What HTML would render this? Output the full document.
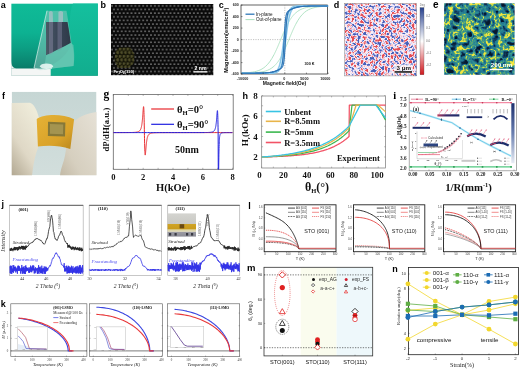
<!DOCTYPE html>
<html><head><meta charset="utf-8"><title>Figure</title>
<style>html,body{margin:0;padding:0;background:#fff;width:520px;height:369px;overflow:hidden}svg{display:block}</style>
</head><body>
<svg width="520" height="369" viewBox="0 0 520 369"><defs><linearGradient id="ga1" x1="0" y1="0" x2="0" y2="1"><stop offset="0" stop-color="#0fbb97"/><stop offset="0.4" stop-color="#0db292"/><stop offset="0.62" stop-color="#0c9e83"/><stop offset="0.85" stop-color="#0a826e"/><stop offset="1" stop-color="#086a5a"/></linearGradient><linearGradient id="ga2" x1="0" y1="0" x2="0" y2="1"><stop offset="0" stop-color="#14c09e"/><stop offset="1" stop-color="#12ad8e"/></linearGradient><linearGradient id="gastrip" x1="0" y1="0" x2="1" y2="0"><stop offset="0" stop-color="#4a5a66"/><stop offset="0.5" stop-color="#394456"/><stop offset="1" stop-color="#2e3a48"/></linearGradient><linearGradient id="gatop" x1="0" y1="0" x2="0" y2="1"><stop offset="0" stop-color="#9ccfc4"/><stop offset="1" stop-color="#7a9aa0"/></linearGradient><clipPath id="clipa"><rect x="11.2" y="3.4" width="86.7" height="72.4"/></clipPath></defs>
<g clip-path="url(#clipa)">
<rect x="11.2" y="3.4" width="86.7" height="72.4" fill="url(#ga1)" stroke="none" stroke-width="1"/>
<path d="M 73 3 C 69 14, 69 28, 71 40 C 72 50, 62 60, 50 66 L 50 76 L 98 76 L 98 3 Z" fill="url(#ga2)" stroke="none" stroke-width="1"/>
<path d="M 11 68.5 L 50.7 68.5 L 50.7 76 L 11 76 Z" fill="#f4f6f5" stroke="none" stroke-width="1"/>
<path d="M 11 60 C 11 66, 13 68.5, 18 68.5 L 11 68.5 Z" fill="#f4f6f5" stroke="none" stroke-width="1"/>
<path d="M 47 10.7 L 66.5 10.7 C 68.5 22, 70 32, 71.5 42 C 74 50, 74.5 58, 73.5 66 L 52 68.5 L 40 69.8 L 34 68 C 38 50, 43 28, 47 10.7 Z" fill="#8fc9c0" stroke="none" stroke-width="1" opacity="0.5"/>
<path d="M 49 12 Q 50.8 10 52.7 12 L 53 22 L 49 22 Z" fill="#a6c0c6" stroke="none" stroke-width="1" opacity="0.8"/>
<path d="M 58.4 12 Q 60.7 10 63 12 L 63 22 L 58.4 22 Z" fill="#a6c0c6" stroke="none" stroke-width="1" opacity="0.8"/>
<path d="M 46 22 L 67.5 22 C 69 30, 70 37, 70.7 42.9 C 63 47, 54 51.5, 46.1 55.2 Z" fill="url(#gastrip)" stroke="none" stroke-width="1"/>
<path d="M 49 22 L 53 22 L 53 53.3 L 49 54.9 Z" fill="#7a7c94" stroke="none" stroke-width="1" opacity="0.6"/>
<path d="M 57.5 22 L 62 22 L 62 49.2 L 57.5 51.3 Z" fill="#72748e" stroke="none" stroke-width="1" opacity="0.6"/>
<path d="M 46.1 55.2 C 54 51.5, 63 47, 70.7 42.9 L 73.5 45 C 74.5 55, 74.5 60, 73.5 66 L 52 68.5 L 44 69.5 Z" fill="#6ccab5" stroke="none" stroke-width="1" opacity="0.6"/>
<ellipse cx="46.5" cy="66.3" rx="6.5" ry="2.8" fill="#f2faf8" stroke="none" stroke-width="1" opacity="0.85"/>
<path d="M 47 10.7 C 43 28, 38 50, 34 68 L 40 69.8 L 52 68.5" fill="none" stroke="#d8eee9" stroke-width="0.8" opacity="0.9"/>
</g>
<defs><pattern id="pb" x="111" y="4.8" width="3.9" height="7.3" patternUnits="userSpaceOnUse"><rect width="3.9" height="7.3" fill="#0b0b0b"/><circle cx="1" cy="1" r="0.8" fill="#999"/><circle cx="2.95" cy="4.65" r="0.8" fill="#999"/></pattern><pattern id="pby" x="111" y="4" width="3.9" height="7.3" patternUnits="userSpaceOnUse"><rect width="3.9" height="7.3" fill="#141408"/><circle cx="1" cy="1" r="1.25" fill="none" stroke="#9a9440" stroke-width="0.45"/><circle cx="2.95" cy="4.65" r="1.25" fill="none" stroke="#9a9440" stroke-width="0.45"/><circle cx="1" cy="1" r="0.5" fill="#8c8c6c"/><circle cx="2.95" cy="4.65" r="0.5" fill="#8c8c6c"/></pattern></defs>
<rect x="111" y="4" width="102.3" height="71.2" fill="url(#pb)" stroke="none" stroke-width="1"/>
<polygon points="119,47.5 130,47 134.5,54 134,63 129,68 118,68 114.5,61 115,52" fill="url(#pby)" stroke="none" stroke-width="1"/>
<text x="113.5" y="73.3" font-family="'Liberation Sans', Arial, sans-serif" font-size="4.2" font-weight="bold" font-style="normal" fill="#ffffff" text-anchor="start">Fe<tspan font-size="2.6" dy="0.8">3</tspan><tspan dy="-0.8">O</tspan><tspan font-size="2.6" dy="0.8">4</tspan><tspan dy="-0.8">(110)</tspan></text>
<text x="200.5" y="69.6" font-family="'Liberation Sans', Arial, sans-serif" font-size="5.2" font-weight="bold" font-style="normal" fill="#ffffff" text-anchor="middle">2 nm</text>
<rect x="193.5" y="71.2" width="14" height="1.3" fill="#ffffff" stroke="none" stroke-width="1"/>
<rect x="241" y="5" width="86.5" height="69" fill="#ffffff" stroke="#222" stroke-width="0.7"/>
<line x1="241" y1="39.6" x2="327.5" y2="39.6" stroke="#9a9a9a" stroke-width="0.6" stroke-dasharray="1.2,1.2"/>
<line x1="284.8" y1="5" x2="284.8" y2="74" stroke="#9a9a9a" stroke-width="0.6" stroke-dasharray="1.2,1.2"/>
<polyline points="241.5,73.17 243.67,73.14 245.83,73.1 248,73.05 250.16,72.99 252.33,72.9 254.49,72.77 256.66,72.6 258.82,72.37 260.99,72.06 263.15,71.64 265.31,71.08 267.48,70.32 269.65,69.31 271.81,67.98 273.98,66.26 274.19,66.06 274.41,65.86 274.62,65.65 274.84,65.44 275.06,65.22 275.27,64.99 275.49,64.77 275.71,64.53 275.92,64.29 276.14,64.05 276.36,63.8 276.57,63.54 276.79,63.28 277.01,63.01 277.22,62.74 277.44,62.46 277.66,62.17 277.87,61.88 278.09,61.58 278.31,61.28 278.52,60.96 278.74,60.65 278.95,60.33 279.17,60 279.39,59.66 279.6,59.32 279.82,58.97 280.04,58.62 280.25,58.26 280.47,57.89 280.69,57.51 280.9,57.14 281.12,56.75 281.34,56.36 281.55,55.96 281.77,55.55 281.99,55.14 282.2,54.73 282.42,54.31 282.63,53.88 282.85,53.44 283.07,53 283.28,52.56 283.5,52.11 283.72,51.65 283.93,51.19 284.15,50.73 284.37,50.26 284.58,49.78 284.8,49.3 285.02,48.82 285.23,48.33 285.45,47.84 285.67,47.34 285.88,46.84 286.1,46.34 286.32,45.83 286.53,45.33 286.75,44.81 286.97,44.3 287.18,43.78 287.4,43.26 287.61,42.74 287.83,42.22 288.05,41.7 288.26,41.18 288.48,40.65 288.7,40.13 288.91,39.6 289.13,39.07 289.35,38.55 289.56,38.02 289.78,37.5 290,36.98 290.21,36.46 290.43,35.94 290.65,35.42 290.86,34.9 291.08,34.39 291.3,33.87 291.51,33.37 291.73,32.86 291.94,32.36 292.16,31.86 292.38,31.36 292.59,30.87 292.81,30.38 293.03,29.9 293.24,29.42 293.46,28.94 293.68,28.47 293.89,28.01 294.11,27.55 294.33,27.09 294.54,26.64 294.76,26.2 294.98,25.76 295.19,25.32 295.41,24.89 295.62,24.47 297.79,20.58 299.95,17.32 302.12,14.67 304.29,12.56 306.45,10.92 308.62,9.66 310.78,8.71 312.94,8 315.11,7.46 317.27,7.07 319.44,6.77 321.61,6.56 323.77,6.4 325.94,6.28 328.1,6.2" fill="none" stroke="#9edcb6" stroke-width="0.8" stroke-linejoin="round"/>
<polyline points="241.5,73 243.67,72.92 245.83,72.8 248,72.64 250.16,72.43 252.33,72.13 254.49,71.74 256.66,71.2 258.82,70.49 260.99,69.54 263.15,68.28 265.31,66.64 267.48,64.53 269.65,61.88 271.81,58.62 273.98,54.73 274.19,54.31 274.41,53.88 274.62,53.44 274.84,53 275.06,52.56 275.27,52.11 275.49,51.65 275.71,51.19 275.92,50.73 276.14,50.26 276.36,49.78 276.57,49.3 276.79,48.82 277.01,48.33 277.22,47.84 277.44,47.34 277.66,46.84 277.87,46.34 278.09,45.83 278.31,45.33 278.52,44.81 278.74,44.3 278.95,43.78 279.17,43.26 279.39,42.74 279.6,42.22 279.82,41.7 280.04,41.18 280.25,40.65 280.47,40.13 280.69,39.6 280.9,39.07 281.12,38.55 281.34,38.02 281.55,37.5 281.77,36.98 281.99,36.46 282.2,35.94 282.42,35.42 282.63,34.9 282.85,34.39 283.07,33.87 283.28,33.37 283.5,32.86 283.72,32.36 283.93,31.86 284.15,31.36 284.37,30.87 284.58,30.38 284.8,29.9 285.02,29.42 285.23,28.94 285.45,28.47 285.67,28.01 285.88,27.55 286.1,27.09 286.32,26.64 286.53,26.2 286.75,25.76 286.97,25.32 287.18,24.89 287.4,24.47 287.61,24.06 287.83,23.65 288.05,23.24 288.26,22.84 288.48,22.45 288.7,22.06 288.91,21.69 289.13,21.31 289.35,20.94 289.56,20.58 289.78,20.23 290,19.88 290.21,19.54 290.43,19.2 290.65,18.87 290.86,18.55 291.08,18.24 291.3,17.92 291.51,17.62 291.73,17.32 291.94,17.03 292.16,16.74 292.38,16.46 292.59,16.19 292.81,15.92 293.03,15.66 293.24,15.4 293.46,15.15 293.68,14.91 293.89,14.67 294.11,14.43 294.33,14.21 294.54,13.98 294.76,13.76 294.98,13.55 295.19,13.34 295.41,13.14 295.62,12.94 297.79,11.22 299.95,9.89 302.12,8.88 304.29,8.12 306.45,7.56 308.62,7.14 310.78,6.83 312.94,6.6 315.11,6.43 317.27,6.3 319.44,6.21 321.61,6.15 323.77,6.1 325.94,6.06 328.1,6.03" fill="none" stroke="#9edcb6" stroke-width="0.8" stroke-linejoin="round"/>
<polyline points="241.5,73.24 243.67,73.24 245.83,73.24 248,73.24 250.16,73.24 252.33,73.24 254.49,73.24 256.66,73.24 258.82,73.24 260.99,73.24 263.15,73.24 265.31,73.23 267.48,73.22 269.65,73.2 271.81,73.13 273.98,72.95 274.19,72.92 274.41,72.88 274.62,72.85 274.84,72.8 275.06,72.76 275.27,72.71 275.49,72.65 275.71,72.59 275.92,72.53 276.14,72.45 276.36,72.37 276.57,72.28 276.79,72.18 277.01,72.07 277.22,71.95 277.44,71.82 277.66,71.68 277.87,71.52 278.09,71.34 278.31,71.15 278.52,70.94 278.74,70.7 278.95,70.45 279.17,70.17 279.39,69.86 279.6,69.52 279.82,69.16 280.04,68.76 280.25,68.32 280.47,67.84 280.69,67.33 280.9,66.76 281.12,66.16 281.34,65.5 281.55,64.78 281.77,64.02 281.99,63.19 282.2,62.31 282.42,61.36 282.63,60.35 282.85,59.28 283.07,58.14 283.28,56.94 283.5,55.67 283.72,54.34 283.93,52.95 284.15,51.51 284.37,50.01 284.58,48.47 284.8,46.88 285.02,45.26 285.23,43.62 285.45,41.95 285.67,40.27 285.88,38.59 286.1,36.91 286.32,35.25 286.53,33.61 286.75,32 286.97,30.42 287.18,28.89 287.4,27.4 287.61,25.97 287.83,24.59 288.05,23.27 288.26,22.02 288.48,20.83 288.7,19.7 288.91,18.64 289.13,17.64 289.35,16.71 289.56,15.84 289.78,15.02 290,14.27 290.21,13.57 290.43,12.92 290.65,12.32 290.86,11.77 291.08,11.26 291.3,10.79 291.51,10.36 291.73,9.97 291.94,9.61 292.16,9.28 292.38,8.98 292.59,8.7 292.81,8.45 293.03,8.22 293.24,8.01 293.46,7.82 293.68,7.65 293.89,7.49 294.11,7.35 294.33,7.22 294.54,7.1 294.76,7 294.98,6.9 295.19,6.81 295.41,6.73 295.62,6.66 297.79,6.22 299.95,6.06 302.12,6 304.29,5.98 306.45,5.97 308.62,5.96 310.78,5.96 312.94,5.96 315.11,5.96 317.27,5.96 319.44,5.96 321.61,5.96 323.77,5.96 325.94,5.96 328.1,5.96" fill="none" stroke="#86c6ea" stroke-width="1.5" stroke-linejoin="round"/>
<polyline points="241.5,73.24 243.67,73.24 245.83,73.24 248,73.24 250.16,73.24 252.33,73.24 254.49,73.24 256.66,73.24 258.82,73.24 260.99,73.24 263.15,73.23 265.31,73.22 267.48,73.2 269.65,73.14 271.81,72.98 273.98,72.54 274.19,72.47 274.41,72.39 274.62,72.3 274.84,72.2 275.06,72.1 275.27,71.98 275.49,71.85 275.71,71.71 275.92,71.55 276.14,71.38 276.36,71.19 276.57,70.98 276.79,70.75 277.01,70.5 277.22,70.22 277.44,69.92 277.66,69.59 277.87,69.23 278.09,68.84 278.31,68.41 278.52,67.94 278.74,67.43 278.95,66.88 279.17,66.28 279.39,65.63 279.6,64.93 279.82,64.18 280.04,63.36 280.25,62.49 280.47,61.56 280.69,60.56 280.9,59.5 281.12,58.37 281.34,57.18 281.55,55.93 281.77,54.61 281.99,53.23 282.2,51.8 282.42,50.31 282.63,48.78 282.85,47.2 283.07,45.59 283.28,43.95 283.5,42.29 283.72,40.61 283.93,38.93 284.15,37.25 284.37,35.58 284.58,33.94 284.8,32.32 285.02,30.73 285.23,29.19 285.45,27.69 285.67,26.25 285.88,24.86 286.1,23.53 286.32,22.26 286.53,21.06 286.75,19.92 286.97,18.85 287.18,17.84 287.4,16.89 287.61,16.01 287.83,15.18 288.05,14.42 288.26,13.7 288.48,13.04 288.7,12.44 288.91,11.87 289.13,11.36 289.35,10.88 289.56,10.44 289.78,10.04 290,9.68 290.21,9.34 290.43,9.03 290.65,8.75 290.86,8.5 291.08,8.26 291.3,8.05 291.51,7.86 291.73,7.68 291.94,7.52 292.16,7.38 292.38,7.25 292.59,7.13 292.81,7.02 293.03,6.92 293.24,6.83 293.46,6.75 293.68,6.67 293.89,6.61 294.11,6.55 294.33,6.49 294.54,6.44 294.76,6.4 294.98,6.35 295.19,6.32 295.41,6.28 295.62,6.25 297.79,6.07 299.95,6 302.12,5.98 304.29,5.97 306.45,5.96 308.62,5.96 310.78,5.96 312.94,5.96 315.11,5.96 317.27,5.96 319.44,5.96 321.61,5.96 323.77,5.96 325.94,5.96 328.1,5.96" fill="none" stroke="#86c6ea" stroke-width="1.5" stroke-linejoin="round"/>
<polyline points="241.5,73.23 243.67,73.23 245.83,73.23 248,73.23 250.16,73.22 252.33,73.21 254.49,73.19 256.66,73.17 258.82,73.14 260.99,73.09 263.15,73.01 265.31,72.9 267.48,72.73 269.65,72.48 271.81,72.11 273.98,71.6 274.19,71.54 274.41,71.47 274.62,71.41 274.84,71.34 275.06,71.27 275.27,71.2 275.49,71.12 275.71,71.05 275.92,70.97 276.14,70.89 276.36,70.8 276.57,70.72 276.79,70.63 277.01,70.54 277.22,70.44 277.44,70.35 277.66,70.25 277.87,70.15 278.09,70.05 278.31,69.94 278.52,69.83 278.74,69.72 278.95,69.6 279.17,69.49 279.39,69.37 279.6,69.24 279.82,69.12 280.04,68.98 280.25,68.85 280.47,68.71 280.69,68.56 280.9,68.4 281.12,68.24 281.34,68.06 281.55,67.87 281.77,67.65 281.99,67.41 282.2,67.13 282.42,66.8 282.63,66.41 282.85,65.94 283.07,65.35 283.28,64.63 283.5,63.71 283.72,62.57 283.93,61.13 284.15,59.34 284.37,57.15 284.58,54.51 284.8,51.41 285.02,47.88 285.23,44.01 285.45,39.93 285.67,35.82 285.88,31.85 286.1,28.17 286.32,24.9 286.53,22.07 286.75,19.71 286.97,17.77 287.18,16.21 287.4,14.96 287.61,13.97 287.83,13.18 288.05,12.55 288.26,12.05 288.48,11.64 288.7,11.3 288.91,11.01 289.13,10.77 289.35,10.55 289.56,10.37 289.78,10.2 290,10.04 290.21,9.89 290.43,9.76 290.65,9.63 290.86,9.51 291.08,9.39 291.3,9.27 291.51,9.16 291.73,9.06 291.94,8.96 292.16,8.86 292.38,8.76 292.59,8.67 292.81,8.57 293.03,8.48 293.24,8.4 293.46,8.31 293.68,8.23 293.89,8.15 294.11,8.08 294.33,8 294.54,7.93 294.76,7.86 294.98,7.79 295.19,7.73 295.41,7.66 295.62,7.6 297.79,7.09 299.95,6.72 302.12,6.47 304.29,6.3 306.45,6.19 308.62,6.11 310.78,6.06 312.94,6.03 315.11,6.01 317.27,5.99 319.44,5.98 321.61,5.97 323.77,5.97 325.94,5.97 328.1,5.97" fill="none" stroke="#2e74b5" stroke-width="1.1" stroke-linejoin="round"/>
<polyline points="241.5,73.23 243.67,73.23 245.83,73.23 248,73.23 250.16,73.22 252.33,73.21 254.49,73.19 256.66,73.17 258.82,73.14 260.99,73.09 263.15,73.01 265.31,72.9 267.48,72.73 269.65,72.48 271.81,72.11 273.98,71.6 274.19,71.54 274.41,71.47 274.62,71.41 274.84,71.34 275.06,71.27 275.27,71.2 275.49,71.12 275.71,71.05 275.92,70.97 276.14,70.89 276.36,70.8 276.57,70.72 276.79,70.63 277.01,70.53 277.22,70.44 277.44,70.34 277.66,70.24 277.87,70.14 278.09,70.04 278.31,69.93 278.52,69.81 278.74,69.69 278.95,69.57 279.17,69.44 279.39,69.31 279.6,69.16 279.82,69 280.04,68.83 280.25,68.65 280.47,68.43 280.69,68.19 280.9,67.9 281.12,67.56 281.34,67.15 281.55,66.65 281.77,66.02 281.99,65.23 282.2,64.24 282.42,62.99 282.63,61.43 282.85,59.49 283.07,57.13 283.28,54.3 283.5,51.03 283.72,47.35 283.93,43.38 284.15,39.27 284.37,35.19 284.58,31.32 284.8,27.79 285.02,24.69 285.23,22.05 285.45,19.86 285.67,18.07 285.88,16.63 286.1,15.49 286.32,14.57 286.53,13.85 286.75,13.26 286.97,12.79 287.18,12.4 287.4,12.07 287.61,11.79 287.83,11.55 288.05,11.33 288.26,11.14 288.48,10.96 288.7,10.8 288.91,10.64 289.13,10.49 289.35,10.35 289.56,10.22 289.78,10.08 290,9.96 290.21,9.83 290.43,9.71 290.65,9.6 290.86,9.48 291.08,9.37 291.3,9.26 291.51,9.15 291.73,9.05 291.94,8.95 292.16,8.85 292.38,8.76 292.59,8.66 292.81,8.57 293.03,8.48 293.24,8.4 293.46,8.31 293.68,8.23 293.89,8.15 294.11,8.08 294.33,8 294.54,7.93 294.76,7.86 294.98,7.79 295.19,7.73 295.41,7.66 295.62,7.6 297.79,7.09 299.95,6.72 302.12,6.47 304.29,6.3 306.45,6.19 308.62,6.11 310.78,6.06 312.94,6.03 315.11,6.01 317.27,5.99 319.44,5.98 321.61,5.97 323.77,5.97 325.94,5.97 328.1,5.97" fill="none" stroke="#2e74b5" stroke-width="1.1" stroke-linejoin="round"/>
<line x1="241" y1="74.1" x2="242.5" y2="74.1" stroke="#222" stroke-width="0.5"/>
<text x="238.8" y="75.4" font-family="'Liberation Sans', Arial, sans-serif" font-size="3.6" font-weight="bold" font-style="normal" fill="#222" text-anchor="end">-600</text>
<line x1="241" y1="62.6" x2="242.5" y2="62.6" stroke="#222" stroke-width="0.5"/>
<text x="238.8" y="63.9" font-family="'Liberation Sans', Arial, sans-serif" font-size="3.6" font-weight="bold" font-style="normal" fill="#222" text-anchor="end">-400</text>
<line x1="241" y1="51.1" x2="242.5" y2="51.1" stroke="#222" stroke-width="0.5"/>
<text x="238.8" y="52.4" font-family="'Liberation Sans', Arial, sans-serif" font-size="3.6" font-weight="bold" font-style="normal" fill="#222" text-anchor="end">-200</text>
<line x1="241" y1="39.6" x2="242.5" y2="39.6" stroke="#222" stroke-width="0.5"/>
<text x="238.8" y="40.9" font-family="'Liberation Sans', Arial, sans-serif" font-size="3.6" font-weight="bold" font-style="normal" fill="#222" text-anchor="end">0</text>
<line x1="241" y1="28.1" x2="242.5" y2="28.1" stroke="#222" stroke-width="0.5"/>
<text x="238.8" y="29.4" font-family="'Liberation Sans', Arial, sans-serif" font-size="3.6" font-weight="bold" font-style="normal" fill="#222" text-anchor="end">200</text>
<line x1="241" y1="16.6" x2="242.5" y2="16.6" stroke="#222" stroke-width="0.5"/>
<text x="238.8" y="17.9" font-family="'Liberation Sans', Arial, sans-serif" font-size="3.6" font-weight="bold" font-style="normal" fill="#222" text-anchor="end">400</text>
<line x1="241" y1="5.1" x2="242.5" y2="5.1" stroke="#222" stroke-width="0.5"/>
<text x="238.8" y="6.4" font-family="'Liberation Sans', Arial, sans-serif" font-size="3.6" font-weight="bold" font-style="normal" fill="#222" text-anchor="end">600</text>
<line x1="241.5" y1="74" x2="241.5" y2="72.6" stroke="#222" stroke-width="0.5"/>
<line x1="263.15" y1="74" x2="263.15" y2="72.6" stroke="#222" stroke-width="0.5"/>
<line x1="284.8" y1="74" x2="284.8" y2="72.6" stroke="#222" stroke-width="0.5"/>
<line x1="306.45" y1="74" x2="306.45" y2="72.6" stroke="#222" stroke-width="0.5"/>
<line x1="328.1" y1="74" x2="328.1" y2="72.6" stroke="#222" stroke-width="0.5"/>
<text x="242.6" y="80.2" font-family="'Liberation Sans', Arial, sans-serif" font-size="3.7" font-weight="bold" font-style="normal" fill="#222" text-anchor="middle">-10000</text>
<text x="263.3" y="80.2" font-family="'Liberation Sans', Arial, sans-serif" font-size="3.7" font-weight="bold" font-style="normal" fill="#222" text-anchor="middle">-5000</text>
<text x="284.2" y="80.2" font-family="'Liberation Sans', Arial, sans-serif" font-size="3.7" font-weight="bold" font-style="normal" fill="#222" text-anchor="middle">0</text>
<text x="304.4" y="80.2" font-family="'Liberation Sans', Arial, sans-serif" font-size="3.7" font-weight="bold" font-style="normal" fill="#222" text-anchor="middle">5000</text>
<text x="325.3" y="80.2" font-family="'Liberation Sans', Arial, sans-serif" font-size="3.7" font-weight="bold" font-style="normal" fill="#222" text-anchor="middle">10000</text>
<text x="284.5" y="85.3" font-family="'Liberation Sans', Arial, sans-serif" font-size="5" font-weight="bold" font-style="normal" fill="#111" text-anchor="middle">Magnetic field(Oe)</text>
<text x="227.6" y="40.2" font-family="'Liberation Sans', Arial, sans-serif" font-size="5.7" font-weight="bold" font-style="normal" fill="#111" text-anchor="middle" transform="rotate(-90 227.6 40.2)">Magnetization(emu/cm<tspan font-size="3.6" dy="-1.5">3</tspan><tspan dy="1.5">)</tspan></text>
<line x1="245.5" y1="14.2" x2="254.5" y2="14.2" stroke="#2f78b8" stroke-width="1.3"/>
<text x="256" y="15.8" font-family="'Liberation Sans', Arial, sans-serif" font-size="4.6" font-weight="normal" font-style="normal" fill="#111" text-anchor="start">In-plane</text>
<line x1="245.5" y1="19.6" x2="254.5" y2="19.6" stroke="#9fdcb4" stroke-width="0.9"/>
<text x="256" y="21.2" font-family="'Liberation Sans', Arial, sans-serif" font-size="4.6" font-weight="normal" font-style="normal" fill="#111" text-anchor="start">Out-of-plane</text>
<text x="309.5" y="65.4" font-family="'Liberation Sans', Arial, sans-serif" font-size="3.8" font-weight="bold" font-style="normal" fill="#111" text-anchor="middle">300 K</text>
<defs><filter id="fd" x="-0.05" y="-0.05" width="1.1" height="1.1" filterUnits="objectBoundingBox" color-interpolation-filters="sRGB"><feTurbulence type="fractalNoise" baseFrequency="0.33" numOctaves="2" seed="7" result="n"/><feColorMatrix in="n" type="matrix" values="1 0 0 0 0  1 0 0 0 0  1 0 0 0 0  0 0 0 0 1" result="g"/><feComponentTransfer in="g"><feFuncR type="linear" slope="2.8" intercept="-0.9"/><feFuncG type="linear" slope="2.8" intercept="-0.9"/><feFuncB type="linear" slope="2.8" intercept="-0.9"/></feComponentTransfer><feComponentTransfer><feFuncR type="table" tableValues="0.28 0.5 0.84 0.98 0.99 0.96 0.89"/><feFuncG type="table" tableValues="0.38 0.55 0.84 0.95 0.87 0.62 0.3"/><feFuncB type="table" tableValues="0.72 0.84 0.96 0.98 0.9 0.64 0.33"/></feComponentTransfer><feGaussianBlur stdDeviation="0.45"/></filter><clipPath id="clipd"><rect x="344.7" y="3.3" width="72" height="72.6"/></clipPath><linearGradient id="gdbar" x1="0" y1="0" x2="0" y2="1"><stop offset="0" stop-color="#26408e"/><stop offset="0.5" stop-color="#ffffff"/><stop offset="1" stop-color="#d0181e"/></linearGradient></defs>
<g clip-path="url(#clipd)">
<rect x="344.7" y="3.3" width="72" height="72.6" fill="#fff" stroke="none" stroke-width="1" filter="url(#fd)"/>
</g>
<rect x="344.7" y="3.3" width="72" height="72.6" fill="none" stroke="#888" stroke-width="0.5"/>
<rect x="394" y="64.5" width="19" height="9" fill="#ffffff" stroke="none" stroke-width="1" opacity="0.75"/>
<text x="403.8" y="70.2" font-family="'Liberation Sans', Arial, sans-serif" font-size="6.2" font-weight="bold" font-style="normal" fill="#111" text-anchor="middle">3 μm</text>
<rect x="394.6" y="71.2" width="17.4" height="1.5" fill="#111" stroke="none" stroke-width="1"/>
<rect x="420" y="7.6" width="4" height="67.2" fill="url(#gdbar)" stroke="#555" stroke-width="0.3"/>
<text x="422.4" y="6.3" font-family="'Liberation Sans', Arial, sans-serif" font-size="2.8" font-weight="normal" font-style="normal" fill="#777" text-anchor="middle">Deg</text>
<text x="426" y="16.6" font-family="'Liberation Sans', Arial, sans-serif" font-size="3" font-weight="normal" font-style="normal" fill="#666" text-anchor="start">0.2</text>
<text x="426" y="29.2" font-family="'Liberation Sans', Arial, sans-serif" font-size="3" font-weight="normal" font-style="normal" fill="#666" text-anchor="start">0.1</text>
<text x="426" y="41.8" font-family="'Liberation Sans', Arial, sans-serif" font-size="3" font-weight="normal" font-style="normal" fill="#666" text-anchor="start">0.0</text>
<text x="426" y="54.1" font-family="'Liberation Sans', Arial, sans-serif" font-size="3" font-weight="normal" font-style="normal" fill="#666" text-anchor="start">-0.1</text>
<text x="426" y="66" font-family="'Liberation Sans', Arial, sans-serif" font-size="3" font-weight="normal" font-style="normal" fill="#666" text-anchor="start">-0.2</text>
<defs><filter id="fe" x="-0.05" y="-0.05" width="1.1" height="1.1" filterUnits="objectBoundingBox" color-interpolation-filters="sRGB"><feTurbulence type="fractalNoise" baseFrequency="0.15" numOctaves="2" seed="5" result="n1"/><feColorMatrix in="n1" type="matrix" values="1 0 0 0 0  1 0 0 0 0  1 0 0 0 0  0 0 0 0 1" result="g1"/><feTurbulence type="fractalNoise" baseFrequency="0.12" numOctaves="3" seed="3" result="n2"/><feColorMatrix in="n2" type="matrix" values="1 0 0 0 0  1 0 0 0 0  1 0 0 0 0  0 0 0 0 1" result="g2a"/><feComponentTransfer in="g2a" result="g2"><feFuncR type="table" tableValues="0 0 0 0.35 1 0.35 0 0 0"/><feFuncG type="table" tableValues="0 0 0 0.35 1 0.35 0 0 0"/><feFuncB type="table" tableValues="0 0 0 0.35 1 0.35 0 0 0"/></feComponentTransfer><feComposite in="g1" in2="g2" operator="arithmetic" k1="0" k2="0.6" k3="0.4" k4="0" result="w"/><feColorMatrix in="w" type="matrix" values="1 0 0 0 0  1 0 0 0 0  1 0 0 0 0  0 0 0 0 1" result="w2"/><feComponentTransfer in="w2"><feFuncR type="linear" slope="2.0" intercept="-0.52"/><feFuncG type="linear" slope="2.0" intercept="-0.52"/><feFuncB type="linear" slope="2.0" intercept="-0.52"/></feComponentTransfer><feComponentTransfer><feFuncR type="table" tableValues="0.03 0.05 0.09 0.13 0.16 0.2 0.36 0.8 0.96"/><feFuncG type="table" tableValues="0.1 0.2 0.34 0.46 0.52 0.57 0.66 0.85 0.9"/><feFuncB type="table" tableValues="0.18 0.32 0.48 0.57 0.58 0.56 0.45 0.28 0.25"/></feComponentTransfer><feGaussianBlur stdDeviation="0.5"/></filter><clipPath id="clipe"><rect x="444.1" y="3.3" width="70.5" height="71.5"/></clipPath></defs>
<g clip-path="url(#clipe)">
<rect x="444.1" y="3.3" width="70.5" height="71.5" fill="#fff" stroke="none" stroke-width="1" filter="url(#fe)"/>
</g>
<text x="501.5" y="66.6" font-family="'Liberation Sans', Arial, sans-serif" font-size="6.2" font-weight="bold" font-style="normal" fill="#ffffff" text-anchor="middle">200 nm</text>
<rect x="489.7" y="68.8" width="22.7" height="1.4" fill="#ffffff" stroke="none" stroke-width="1"/>
<text x="0.8" y="8.2" font-family="'Liberation Sans', Arial, sans-serif" font-size="9" font-weight="bold" font-style="normal" fill="#000" text-anchor="start">a</text>
<text x="100.6" y="8.2" font-family="'Liberation Sans', Arial, sans-serif" font-size="9" font-weight="bold" font-style="normal" fill="#000" text-anchor="start">b</text>
<text x="218.8" y="8.2" font-family="'Liberation Sans', Arial, sans-serif" font-size="9" font-weight="bold" font-style="normal" fill="#000" text-anchor="start">c</text>
<text x="333.8" y="7.6" font-family="'Liberation Sans', Arial, sans-serif" font-size="9" font-weight="bold" font-style="normal" fill="#000" text-anchor="start">d</text>
<text x="432.9" y="7.8" font-family="'Liberation Sans', Arial, sans-serif" font-size="10" font-weight="bold" font-style="normal" fill="#000" text-anchor="start">e</text>
<defs><linearGradient id="gfbg" x1="0" y1="0" x2="0" y2="1"><stop offset="0" stop-color="#c6d6d4"/><stop offset="1" stop-color="#d2dedc"/></linearGradient><linearGradient id="gfl" x1="0.6" y1="0" x2="0" y2="1"><stop offset="0" stop-color="#eeebd9"/><stop offset="0.55" stop-color="#dfd8c6"/><stop offset="1" stop-color="#b0a690"/></linearGradient><linearGradient id="gfr" x1="1" y1="0" x2="0" y2="1"><stop offset="0" stop-color="#e6e1d6"/><stop offset="0.7" stop-color="#d6cfbf"/><stop offset="1" stop-color="#c2b9a5"/></linearGradient><linearGradient id="gffilm" x1="0" y1="0" x2="1" y2="1"><stop offset="0" stop-color="#e6b236"/><stop offset="0.65" stop-color="#d9a229"/><stop offset="1" stop-color="#b8861c"/></linearGradient><clipPath id="clipf"><rect x="11.7" y="91.7" width="84.8" height="83.6"/></clipPath></defs>
<g clip-path="url(#clipf)">
<rect x="11.7" y="91.7" width="84.8" height="83.6" fill="url(#gfbg)" stroke="none" stroke-width="1"/>
<path d="M 11 103 L 30 102.7 C 34 104, 37 110, 39 118 C 41 128, 40 145, 36.5 152 C 34 160, 33 168, 32 176 L 11 176 Z" fill="url(#gfl)" stroke="none" stroke-width="1"/>
<path d="M 97 112 C 88 113, 78 116, 72 124 C 66 135, 67 150, 64 160 C 62 166, 60 172, 60 176 L 97 176 Z" fill="url(#gfr)" stroke="none" stroke-width="1"/>
<path d="M 36.7 119 C 44 114, 62 113.5, 74.1 119.2 L 70.3 149.1 C 60 145.5, 48 145, 37.9 146.6 Z" fill="url(#gffilm)" stroke="none" stroke-width="1"/>
<path d="M 48 121.7 L 65.4 122.5 L 65 136.6 L 47.9 136 Z" fill="#867838" stroke="none" stroke-width="1"/>
<path d="M 50 124 L 63.2 124.6 L 63 134.3 L 49.9 133.8 Z" fill="#a49450" stroke="none" stroke-width="1"/>
</g>
<rect x="113.3" y="94.4" width="119.9" height="74.9" fill="#fff" stroke="#666" stroke-width="0.8"/>
<line x1="113.4" y1="169.3" x2="113.4" y2="167.8" stroke="#666" stroke-width="0.5"/>
<line x1="113.4" y1="94.4" x2="113.4" y2="95.9" stroke="#666" stroke-width="0.5"/>
<line x1="128.3" y1="169.3" x2="128.3" y2="167.8" stroke="#666" stroke-width="0.5"/>
<line x1="128.3" y1="94.4" x2="128.3" y2="95.9" stroke="#666" stroke-width="0.5"/>
<line x1="143.2" y1="169.3" x2="143.2" y2="167.8" stroke="#666" stroke-width="0.5"/>
<line x1="143.2" y1="94.4" x2="143.2" y2="95.9" stroke="#666" stroke-width="0.5"/>
<line x1="158.1" y1="169.3" x2="158.1" y2="167.8" stroke="#666" stroke-width="0.5"/>
<line x1="158.1" y1="94.4" x2="158.1" y2="95.9" stroke="#666" stroke-width="0.5"/>
<line x1="173" y1="169.3" x2="173" y2="167.8" stroke="#666" stroke-width="0.5"/>
<line x1="173" y1="94.4" x2="173" y2="95.9" stroke="#666" stroke-width="0.5"/>
<line x1="187.9" y1="169.3" x2="187.9" y2="167.8" stroke="#666" stroke-width="0.5"/>
<line x1="187.9" y1="94.4" x2="187.9" y2="95.9" stroke="#666" stroke-width="0.5"/>
<line x1="202.8" y1="169.3" x2="202.8" y2="167.8" stroke="#666" stroke-width="0.5"/>
<line x1="202.8" y1="94.4" x2="202.8" y2="95.9" stroke="#666" stroke-width="0.5"/>
<line x1="217.7" y1="169.3" x2="217.7" y2="167.8" stroke="#666" stroke-width="0.5"/>
<line x1="217.7" y1="94.4" x2="217.7" y2="95.9" stroke="#666" stroke-width="0.5"/>
<line x1="232.6" y1="169.3" x2="232.6" y2="167.8" stroke="#666" stroke-width="0.5"/>
<line x1="232.6" y1="94.4" x2="232.6" y2="95.9" stroke="#666" stroke-width="0.5"/>
<polyline points="113.4,132.59 114.89,132.59 116.38,132.59 117.87,132.59 119.36,132.59 120.85,132.58 122.34,132.58 123.83,132.57 125.32,132.57 126.81,132.56 128.3,132.55 129.79,132.53 130.09,132.52 130.39,132.52 130.68,132.51 130.98,132.51 131.28,132.5 131.58,132.49 131.88,132.49 132.17,132.48 132.47,132.47 132.77,132.46 133.07,132.45 133.37,132.44 133.66,132.42 133.96,132.41 134.26,132.39 134.56,132.37 134.86,132.35 135.15,132.33 135.45,132.3 135.75,132.27 136.05,132.23 136.35,132.19 136.64,132.14 136.94,132.09 137.24,132.03 137.54,131.95 137.84,131.86 138.13,131.76 138.43,131.64 138.73,131.49 139.03,131.32 139.33,131.1 139.62,130.83 139.92,130.5 140.22,130.09 140.52,129.56 140.82,128.89 140.88,128.74 140.94,128.57 140.99,128.4 141.05,128.22 141.11,128.02 141.17,127.82 141.23,127.61 141.29,127.38 141.35,127.14 141.41,126.89 141.47,126.63 141.53,126.35 141.59,126.05 141.65,125.74 141.71,125.41 141.77,125.06 141.83,124.69 141.89,124.29 141.95,123.88 142.01,123.45 142.07,122.99 142.13,122.5 142.19,121.99 142.25,121.45 142.31,120.88 142.37,120.28 142.43,119.66 142.48,119 142.54,118.32 142.6,117.6 142.66,116.86 142.72,116.09 142.78,115.29 142.84,114.48 142.9,113.65 142.96,112.81 143.02,111.97 143.08,111.14 143.14,110.32 143.2,109.54 143.26,108.8 143.32,108.14 143.38,107.56 143.44,107.1 143.5,106.78 143.56,106.63 143.62,106.67 143.68,106.95 143.74,107.48 143.8,108.3 143.86,109.42 143.92,110.86 143.97,112.64 144.03,114.74 144.09,117.16 144.15,119.86 144.21,122.81 144.27,125.96 144.33,129.24 144.39,132.6 144.45,135.5 144.51,138.35 144.57,141.07 144.63,143.63 144.69,145.96 144.75,148.05 144.81,149.87 144.87,151.41 144.93,152.66 144.99,153.63 145.05,154.34 145.11,154.8 145.17,155.04 145.23,155.08 145.29,154.94 145.35,154.67 145.41,154.27 145.46,153.77 145.52,153.19 145.58,152.56 145.64,151.88 145.7,151.18 145.76,150.45 145.82,149.73 145.88,149 145.94,148.28 146,147.58 146.06,146.89 146.12,146.22 146.18,145.58 146.24,144.96 146.3,144.37 146.36,143.8 146.42,143.26 146.48,142.74 146.54,142.25 146.6,141.78 146.66,141.34 146.72,140.92 146.78,140.52 146.84,140.14 146.9,139.79 146.95,139.45 147.01,139.13 147.07,138.83 147.13,138.54 147.19,138.27 147.25,138.01 147.31,137.77 147.37,137.54 147.43,137.32 147.49,137.12 147.55,136.92 147.61,136.74 147.67,136.56 147.73,136.39 147.79,136.24 147.85,136.09 147.91,135.94 147.97,135.81 148.03,135.68 148.09,135.56 148.15,135.44 148.44,134.94 148.74,134.55 149.04,134.24 149.34,133.99 149.64,133.78 149.93,133.62 150.23,133.48 150.53,133.37 150.83,133.27 151.13,133.19 151.42,133.12 151.72,133.06 152.02,133.01 152.32,132.97 152.62,132.93 152.91,132.9 153.21,132.87 153.51,132.85 153.81,132.82 154.11,132.81 154.4,132.79 154.7,132.77 155,132.76 155.3,132.75 155.6,132.74 155.89,132.73 156.19,132.72 156.49,132.71 156.79,132.7 157.09,132.69 157.38,132.69 157.68,132.68 157.98,132.68 158.28,132.67 158.58,132.67 158.87,132.66 159.17,132.66 159.47,132.66 160.96,132.64 162.45,132.63 163.94,132.63 165.43,132.62 166.92,132.62 168.41,132.61 169.9,132.61 171.39,132.61 172.88,132.61 174.37,132.61 175.86,132.61 177.35,132.61 178.84,132.6 180.33,132.6 181.82,132.6 183.31,132.6 184.8,132.6 186.29,132.6 187.78,132.6 189.27,132.6 190.76,132.6 192.25,132.6 193.74,132.6 195.23,132.6 196.72,132.6 198.21,132.6 199.7,132.6 201.19,132.6 202.68,132.6 204.17,132.6 205.66,132.6 207.15,132.6 208.64,132.6 210.13,132.6 211.62,132.6 213.11,132.6 214.6,132.6 216.09,132.6 217.58,132.6 219.07,132.6 220.56,132.6 222.05,132.6 223.54,132.6 225.03,132.6 226.52,132.6 228.01,132.6 229.5,132.6 230.99,132.6 232.48,132.6" fill="none" stroke="#e8282c" stroke-width="1" stroke-linejoin="round"/>
<polyline points="113.4,132.6 114.89,132.6 116.38,132.6 117.87,132.6 119.36,132.6 120.85,132.6 122.34,132.6 123.83,132.6 125.32,132.6 126.81,132.6 128.3,132.6 129.79,132.6 131.28,132.6 132.77,132.6 134.26,132.6 135.75,132.6 137.24,132.6 138.73,132.6 140.22,132.6 141.71,132.6 143.2,132.6 144.69,132.6 146.18,132.6 147.67,132.6 149.16,132.6 150.65,132.6 152.14,132.6 153.63,132.6 155.12,132.6 156.61,132.6 158.1,132.6 159.59,132.6 161.08,132.6 162.57,132.6 164.06,132.6 165.55,132.6 167.04,132.6 168.53,132.6 170.02,132.6 171.51,132.6 173,132.6 174.49,132.6 175.98,132.6 177.47,132.6 178.96,132.6 180.45,132.6 181.94,132.6 183.43,132.6 184.92,132.6 186.41,132.6 187.9,132.6 189.39,132.59 190.88,132.59 192.37,132.59 193.86,132.59 195.35,132.59 196.84,132.59 198.33,132.58 199.82,132.58 201.31,132.57 202.8,132.56 204.29,132.55 204.59,132.55 204.89,132.54 205.18,132.54 205.48,132.53 205.78,132.53 206.08,132.52 206.38,132.52 206.67,132.51 206.97,132.5 207.27,132.5 207.57,132.49 207.87,132.48 208.16,132.47 208.46,132.45 208.76,132.44 209.06,132.42 209.36,132.41 209.65,132.39 209.95,132.36 210.25,132.33 210.55,132.3 210.85,132.27 211.14,132.22 211.44,132.17 211.74,132.12 212.04,132.05 212.34,131.96 212.63,131.86 212.93,131.74 213.23,131.58 213.53,131.39 213.83,131.15 214.12,130.85 214.42,130.46 214.72,129.96 214.78,129.84 214.84,129.71 214.9,129.58 214.96,129.44 215.02,129.29 215.08,129.13 215.14,128.96 215.2,128.78 215.26,128.59 215.32,128.39 215.38,128.18 215.44,127.95 215.49,127.71 215.55,127.46 215.61,127.18 215.67,126.9 215.73,126.59 215.79,126.26 215.85,125.91 215.91,125.54 215.97,125.15 216.03,124.73 216.09,124.29 216.15,123.81 216.21,123.31 216.27,122.78 216.33,122.22 216.39,121.63 216.45,121.01 216.51,120.36 216.57,119.67 216.63,118.96 216.69,118.22 216.75,117.45 216.81,116.67 216.87,115.88 216.93,115.08 216.98,114.29 217.04,113.53 217.1,112.81 217.16,112.14 217.22,111.56 217.28,111.1 217.34,110.77 217.4,110.62 217.46,110.68 217.52,110.99 217.58,111.58 217.64,112.48 217.7,113.71 217.76,115.29 217.82,117.21 217.88,119.47 217.94,122.03 218,124.85 218.06,127.87 218.12,131.01 218.18,144.8 218.24,166.74 218.3,169.3 218.36,169.3 218.42,169.3 218.47,169.3 218.53,169.3 218.59,169.3 218.65,169.3 218.71,167.07 218.77,162.1 218.83,157.81 218.89,154.16 218.95,151.08 219.01,148.5 219.07,146.33 219.13,144.51 219.19,142.97 219.25,141.67 219.31,140.57 219.37,139.63 219.43,138.83 219.49,138.14 219.55,137.54 219.61,137.03 219.67,136.58 219.73,136.19 219.79,135.84 219.85,135.54 219.91,135.28 219.96,135.04 220.02,134.83 220.08,134.65 220.14,134.48 220.2,134.33 220.26,134.2 220.32,134.07 220.38,133.97 220.44,133.87 220.5,133.78 220.56,133.7 220.62,133.62 220.68,133.55 220.74,133.49 220.8,133.44 220.86,133.38 220.92,133.34 220.98,133.29 221.04,133.25 221.1,133.21 221.16,133.18 221.22,133.15 221.28,133.12 221.34,133.09 221.4,133.06 221.45,133.04 221.51,133.02 221.57,133 221.63,132.98 221.69,132.96 221.75,132.94 221.81,132.93 221.87,132.91 221.93,132.9 222.23,132.84 222.53,132.79 222.83,132.76 223.12,132.73 223.42,132.71 223.72,132.69 224.02,132.68 224.32,132.67 224.61,132.66 224.91,132.65 225.21,132.65 225.51,132.64 225.81,132.64 226.1,132.63 226.4,132.63 226.7,132.63 227,132.62 227.3,132.62 227.59,132.62 227.89,132.62 228.19,132.62 228.49,132.61 228.79,132.61 229.08,132.61 229.38,132.61 229.68,132.61 229.98,132.61 230.28,132.61 230.57,132.61 230.87,132.61 231.17,132.61 231.47,132.61 231.77,132.61 232.06,132.61 232.36,132.61" fill="none" stroke="#2020e0" stroke-width="1" stroke-linejoin="round"/>
<line x1="151.2" y1="109" x2="174" y2="109" stroke="#e8282c" stroke-width="1.2"/>
<line x1="151.2" y1="124.3" x2="174" y2="124.3" stroke="#2020e0" stroke-width="1.2"/>
<text x="177" y="112.8" font-family="'Liberation Serif', 'Times New Roman', serif" font-size="10.6" font-weight="bold" font-style="normal" fill="#111" text-anchor="start">θ<tspan font-size="6.6" dy="2.2">H</tspan><tspan dy="-2.2">=0°</tspan></text>
<text x="177" y="128.1" font-family="'Liberation Serif', 'Times New Roman', serif" font-size="10.6" font-weight="bold" font-style="normal" fill="#111" text-anchor="start">θ<tspan font-size="6.6" dy="2.2">H</tspan><tspan dy="-2.2">=90°</tspan></text>
<text x="175" y="153.2" font-family="'Liberation Serif', 'Times New Roman', serif" font-size="10" font-weight="bold" font-style="normal" fill="#111" text-anchor="start">50nm</text>
<text x="113.4" y="180.3" font-family="'Liberation Serif', 'Times New Roman', serif" font-size="8.5" font-weight="bold" font-style="normal" fill="#111" text-anchor="middle">0</text>
<text x="143.2" y="180.3" font-family="'Liberation Serif', 'Times New Roman', serif" font-size="8.5" font-weight="bold" font-style="normal" fill="#111" text-anchor="middle">2</text>
<text x="173" y="180.3" font-family="'Liberation Serif', 'Times New Roman', serif" font-size="8.5" font-weight="bold" font-style="normal" fill="#111" text-anchor="middle">4</text>
<text x="202.8" y="180.3" font-family="'Liberation Serif', 'Times New Roman', serif" font-size="8.5" font-weight="bold" font-style="normal" fill="#111" text-anchor="middle">6</text>
<text x="232.6" y="180.3" font-family="'Liberation Serif', 'Times New Roman', serif" font-size="8.5" font-weight="bold" font-style="normal" fill="#111" text-anchor="middle">8</text>
<text x="173" y="190.5" font-family="'Liberation Serif', 'Times New Roman', serif" font-size="10.5" font-weight="bold" font-style="normal" fill="#111" text-anchor="middle">H(kOe)</text>
<text x="108.8" y="129.6" font-family="'Liberation Serif', 'Times New Roman', serif" font-size="8.8" font-weight="bold" font-style="normal" fill="#111" text-anchor="middle" transform="rotate(-90 108.8 129.6)">dP/dH(a.u.)</text>
<rect x="261.7" y="96" width="123.9" height="72" fill="#fff" stroke="#777" stroke-width="0.7"/>
<line x1="261.7" y1="168" x2="261.7" y2="166.6" stroke="#777" stroke-width="0.5"/>
<line x1="261.7" y1="96" x2="261.7" y2="97.4" stroke="#777" stroke-width="0.5"/>
<line x1="273.35" y1="168" x2="273.35" y2="166.6" stroke="#777" stroke-width="0.5"/>
<line x1="273.35" y1="96" x2="273.35" y2="97.4" stroke="#777" stroke-width="0.5"/>
<line x1="285" y1="168" x2="285" y2="166.6" stroke="#777" stroke-width="0.5"/>
<line x1="285" y1="96" x2="285" y2="97.4" stroke="#777" stroke-width="0.5"/>
<line x1="296.65" y1="168" x2="296.65" y2="166.6" stroke="#777" stroke-width="0.5"/>
<line x1="296.65" y1="96" x2="296.65" y2="97.4" stroke="#777" stroke-width="0.5"/>
<line x1="308.3" y1="168" x2="308.3" y2="166.6" stroke="#777" stroke-width="0.5"/>
<line x1="308.3" y1="96" x2="308.3" y2="97.4" stroke="#777" stroke-width="0.5"/>
<line x1="319.95" y1="168" x2="319.95" y2="166.6" stroke="#777" stroke-width="0.5"/>
<line x1="319.95" y1="96" x2="319.95" y2="97.4" stroke="#777" stroke-width="0.5"/>
<line x1="331.6" y1="168" x2="331.6" y2="166.6" stroke="#777" stroke-width="0.5"/>
<line x1="331.6" y1="96" x2="331.6" y2="97.4" stroke="#777" stroke-width="0.5"/>
<line x1="343.25" y1="168" x2="343.25" y2="166.6" stroke="#777" stroke-width="0.5"/>
<line x1="343.25" y1="96" x2="343.25" y2="97.4" stroke="#777" stroke-width="0.5"/>
<line x1="354.9" y1="168" x2="354.9" y2="166.6" stroke="#777" stroke-width="0.5"/>
<line x1="354.9" y1="96" x2="354.9" y2="97.4" stroke="#777" stroke-width="0.5"/>
<line x1="366.55" y1="168" x2="366.55" y2="166.6" stroke="#777" stroke-width="0.5"/>
<line x1="366.55" y1="96" x2="366.55" y2="97.4" stroke="#777" stroke-width="0.5"/>
<line x1="378.2" y1="168" x2="378.2" y2="166.6" stroke="#777" stroke-width="0.5"/>
<line x1="378.2" y1="96" x2="378.2" y2="97.4" stroke="#777" stroke-width="0.5"/>
<line x1="261.7" y1="157" x2="263.1" y2="157" stroke="#777" stroke-width="0.5"/>
<line x1="385.6" y1="157" x2="384.2" y2="157" stroke="#777" stroke-width="0.5"/>
<line x1="261.7" y1="146.75" x2="263.1" y2="146.75" stroke="#777" stroke-width="0.5"/>
<line x1="385.6" y1="146.75" x2="384.2" y2="146.75" stroke="#777" stroke-width="0.5"/>
<line x1="261.7" y1="136.5" x2="263.1" y2="136.5" stroke="#777" stroke-width="0.5"/>
<line x1="385.6" y1="136.5" x2="384.2" y2="136.5" stroke="#777" stroke-width="0.5"/>
<line x1="261.7" y1="126.25" x2="263.1" y2="126.25" stroke="#777" stroke-width="0.5"/>
<line x1="385.6" y1="126.25" x2="384.2" y2="126.25" stroke="#777" stroke-width="0.5"/>
<line x1="261.7" y1="116" x2="263.1" y2="116" stroke="#777" stroke-width="0.5"/>
<line x1="385.6" y1="116" x2="384.2" y2="116" stroke="#777" stroke-width="0.5"/>
<line x1="261.7" y1="105.75" x2="263.1" y2="105.75" stroke="#777" stroke-width="0.5"/>
<line x1="385.6" y1="105.75" x2="384.2" y2="105.75" stroke="#777" stroke-width="0.5"/>
<line x1="261.7" y1="95.5" x2="263.1" y2="95.5" stroke="#777" stroke-width="0.5"/>
<line x1="385.6" y1="95.5" x2="384.2" y2="95.5" stroke="#777" stroke-width="0.5"/>
<polyline points="261.7,157 262.87,156.97 264.03,156.95 265.19,156.92 266.36,156.89 267.52,156.86 268.69,156.83 269.86,156.79 271.02,156.76 272.19,156.72 273.35,156.68 274.51,156.64 275.68,156.6 276.84,156.55 278.01,156.5 279.18,156.45 280.34,156.4 281.5,156.34 282.67,156.28 283.83,156.22 285,156.15 286.16,156.09 287.33,156.01 288.5,155.94 289.66,155.86 290.82,155.77 291.99,155.69 293.15,155.59 294.32,155.5 295.49,155.39 296.65,155.29 297.81,155.17 298.98,155.06 300.14,154.93 301.31,154.8 302.47,154.66 303.64,154.52 304.81,154.36 305.97,154.2 307.13,154.03 308.3,153.86 309.46,153.67 310.63,153.47 311.79,153.27 312.96,153.05 314.12,152.82 315.29,152.58 316.45,152.33 317.62,152.07 318.78,151.79 319.95,151.5 321.12,151.19 322.28,150.87 323.44,150.53 324.61,150.17 325.77,149.8 326.94,149.4 328.11,148.99 329.27,148.55 330.44,148.09 331.6,147.61 332.76,147.1 333.93,146.57 335.09,146.01 336.26,145.42 337.43,144.8 338.59,144.15 339.75,143.47 340.92,142.75 342.08,141.99 343.25,141.2 344.41,140.36 345.58,139.49 346.75,138.56 347.91,137.59 349.07,136.57 349.31,105.24 385.6,105.24" fill="none" stroke="#f25366" stroke-width="1.25" stroke-linejoin="round"/>
<polyline points="261.7,157 262.87,156.96 264.03,156.91 265.19,156.86 266.36,156.81 267.52,156.76 268.69,156.7 269.86,156.64 271.02,156.58 272.19,156.52 273.35,156.46 274.51,156.39 275.68,156.31 276.84,156.24 278.01,156.16 279.18,156.08 280.34,155.99 281.5,155.9 282.67,155.81 283.83,155.71 285,155.61 286.16,155.5 287.33,155.38 288.5,155.27 289.66,155.14 290.82,155.02 291.99,154.88 293.15,154.74 294.32,154.59 295.49,154.44 296.65,154.28 297.81,154.11 298.98,153.94 300.14,153.75 301.31,153.56 302.47,153.36 303.64,153.15 304.81,152.93 305.97,152.7 307.13,152.46 308.3,152.21 309.46,151.95 310.63,151.68 311.79,151.39 312.96,151.09 314.12,150.78 315.29,150.45 316.45,150.11 317.62,149.75 318.78,149.38 319.95,148.99 321.12,148.58 322.28,148.15 323.44,147.71 324.61,147.24 325.77,146.75 326.94,146.24 328.11,145.71 329.27,145.15 330.44,144.57 331.6,143.96 332.76,143.32 333.93,142.66 335.09,141.96 336.26,141.23 337.43,140.47 338.59,139.68 339.75,138.85 340.92,137.98 342.08,137.07 343.25,136.12 344.41,135.12 345.58,134.09 346.75,133 347.91,131.86 349.07,130.68 351.99,105.24 377.03,105.24 385.6,120.1" fill="none" stroke="#3cb850" stroke-width="1.25" stroke-linejoin="round"/>
<polyline points="261.7,157 262.87,156.94 264.03,156.87 265.19,156.8 266.36,156.73 267.52,156.66 268.69,156.58 269.86,156.5 271.02,156.42 272.19,156.33 273.35,156.24 274.51,156.15 275.68,156.05 276.84,155.95 278.01,155.85 279.18,155.74 280.34,155.62 281.5,155.5 282.67,155.38 283.83,155.25 285,155.12 286.16,154.98 287.33,154.83 288.5,154.68 289.66,154.52 290.82,154.36 291.99,154.19 293.15,154.01 294.32,153.83 295.49,153.63 296.65,153.43 297.81,153.22 298.98,153.01 300.14,152.78 301.31,152.55 302.47,152.3 303.64,152.05 304.81,151.78 305.97,151.51 307.13,151.22 308.3,150.92 309.46,150.61 310.63,150.29 311.79,149.95 312.96,149.6 314.12,149.24 315.29,148.86 316.45,148.46 317.62,148.05 318.78,147.62 319.95,147.18 321.12,146.71 322.28,146.23 323.44,145.73 324.61,145.21 325.77,144.66 326.94,144.1 328.11,143.51 329.27,142.89 330.44,142.25 331.6,141.59 332.76,140.9 333.93,140.18 335.09,139.43 336.26,138.65 337.43,137.84 338.59,136.99 339.75,136.11 340.92,135.2 342.08,134.25 343.25,133.25 344.41,132.22 345.58,131.15 346.75,130.03 347.91,128.87 349.07,127.66 356.06,105.24 378.2,105.24 385.6,111.9" fill="none" stroke="#e9b54a" stroke-width="1.25" stroke-linejoin="round"/>
<polyline points="261.7,157 262.87,156.92 264.03,156.83 265.19,156.74 266.36,156.65 267.52,156.56 268.69,156.46 269.86,156.35 271.02,156.25 272.19,156.14 273.35,156.02 274.51,155.91 275.68,155.78 276.84,155.66 278.01,155.52 279.18,155.39 280.34,155.25 281.5,155.1 282.67,154.95 283.83,154.79 285,154.63 286.16,154.46 287.33,154.28 288.5,154.1 289.66,153.91 290.82,153.72 291.99,153.52 293.15,153.31 294.32,153.09 295.49,152.87 296.65,152.63 297.81,152.39 298.98,152.14 300.14,151.88 301.31,151.61 302.47,151.33 303.64,151.04 304.81,150.75 305.97,150.44 307.13,150.11 308.3,149.78 309.46,149.44 310.63,149.08 311.79,148.71 312.96,148.32 314.12,147.92 315.29,147.51 316.45,147.08 317.62,146.64 318.78,146.18 319.95,145.7 321.12,145.21 322.28,144.7 323.44,144.17 324.61,143.62 325.77,143.05 326.94,142.46 328.11,141.85 329.27,141.22 330.44,140.56 331.6,139.88 332.76,139.17 333.93,138.44 335.09,137.69 336.26,136.9 337.43,136.09 338.59,135.24 339.75,134.37 340.92,133.47 342.08,132.53 343.25,131.55 344.41,130.55 345.58,129.5 346.75,128.42 347.91,127.3 349.07,126.13 360.14,105.24 375.87,105.24 385.6,118.05" fill="none" stroke="#38c4e4" stroke-width="1.25" stroke-linejoin="round"/>
<line x1="265.8" y1="111.5" x2="281" y2="111.5" stroke="#38c4e4" stroke-width="1.6"/>
<text x="284.2" y="114.5" font-family="'Liberation Serif', 'Times New Roman', serif" font-size="8.5" font-weight="bold" font-style="normal" fill="#111" text-anchor="start">Unbent</text>
<line x1="265.8" y1="121.3" x2="281" y2="121.3" stroke="#e9b54a" stroke-width="1.6"/>
<text x="284.2" y="124.3" font-family="'Liberation Serif', 'Times New Roman', serif" font-size="8.5" font-weight="bold" font-style="normal" fill="#111" text-anchor="start">R=8.5mm</text>
<line x1="265.8" y1="132.1" x2="281" y2="132.1" stroke="#3cb850" stroke-width="1.6"/>
<text x="284.2" y="135.1" font-family="'Liberation Serif', 'Times New Roman', serif" font-size="8.5" font-weight="bold" font-style="normal" fill="#111" text-anchor="start">R=5mm</text>
<line x1="265.8" y1="142.5" x2="281" y2="142.5" stroke="#f25366" stroke-width="1.6"/>
<text x="284.2" y="145.5" font-family="'Liberation Serif', 'Times New Roman', serif" font-size="8.5" font-weight="bold" font-style="normal" fill="#111" text-anchor="start">R=3.5mm</text>
<text x="358.4" y="160.9" font-family="'Liberation Serif', 'Times New Roman', serif" font-size="8.5" font-weight="bold" font-style="normal" fill="#111" text-anchor="middle">Experiment</text>
<text x="255.6" y="160.2" font-family="'Liberation Serif', 'Times New Roman', serif" font-size="9" font-weight="bold" font-style="normal" fill="#111" text-anchor="middle">2</text>
<text x="255.6" y="139.7" font-family="'Liberation Serif', 'Times New Roman', serif" font-size="9" font-weight="bold" font-style="normal" fill="#111" text-anchor="middle">4</text>
<text x="255.6" y="119.2" font-family="'Liberation Serif', 'Times New Roman', serif" font-size="9" font-weight="bold" font-style="normal" fill="#111" text-anchor="middle">6</text>
<text x="255.6" y="98.7" font-family="'Liberation Serif', 'Times New Roman', serif" font-size="9" font-weight="bold" font-style="normal" fill="#111" text-anchor="middle">8</text>
<text x="259.5" y="178.4" font-family="'Liberation Serif', 'Times New Roman', serif" font-size="8.8" font-weight="bold" font-style="normal" fill="#111" text-anchor="middle">0</text>
<text x="283.5" y="178.4" font-family="'Liberation Serif', 'Times New Roman', serif" font-size="8.8" font-weight="bold" font-style="normal" fill="#111" text-anchor="middle">20</text>
<text x="307" y="178.4" font-family="'Liberation Serif', 'Times New Roman', serif" font-size="8.8" font-weight="bold" font-style="normal" fill="#111" text-anchor="middle">40</text>
<text x="330.3" y="178.4" font-family="'Liberation Serif', 'Times New Roman', serif" font-size="8.8" font-weight="bold" font-style="normal" fill="#111" text-anchor="middle">60</text>
<text x="353.8" y="178.4" font-family="'Liberation Serif', 'Times New Roman', serif" font-size="8.8" font-weight="bold" font-style="normal" fill="#111" text-anchor="middle">80</text>
<text x="377" y="178.4" font-family="'Liberation Serif', 'Times New Roman', serif" font-size="8.8" font-weight="bold" font-style="normal" fill="#111" text-anchor="middle">100</text>
<text x="248.4" y="130.4" font-family="'Liberation Serif', 'Times New Roman', serif" font-size="9.2" font-weight="bold" font-style="normal" fill="#111" text-anchor="middle" transform="rotate(-90 248.4 130.4)">H<tspan font-size="5" dy="2">r</tspan><tspan dy="-2">(kOe)</tspan></text>
<text x="317" y="191" font-family="'Liberation Serif', 'Times New Roman', serif" font-size="12" font-weight="bold" font-style="normal" fill="#111" text-anchor="middle">θ<tspan font-size="6.5" dy="2">H</tspan><tspan dy="-2">(°)</tspan></text>
<rect x="409.2" y="94.6" width="107.3" height="76.2" fill="#fff" stroke="#888" stroke-width="0.7"/>
<defs><linearGradient id="gibar" x1="0" y1="0" x2="0" y2="1"><stop offset="0" stop-color="#1c2f6e"/><stop offset="0.5" stop-color="#6a7fb0"/><stop offset="1" stop-color="#e8ecf4"/></linearGradient><linearGradient id="gislab" x1="0" y1="0" x2="1" y2="0"><stop offset="0" stop-color="#c04060"/><stop offset="0.4" stop-color="#3a2a6a"/><stop offset="1" stop-color="#1e2d6a"/></linearGradient></defs>
<rect x="511.3" y="103.2" width="3.2" height="60" fill="url(#gibar)" stroke="none" stroke-width="1"/>
<line x1="409.2" y1="102.7" x2="511.5" y2="102.7" stroke="#f07090" stroke-width="1"/>
<circle cx="411" cy="102.7" r="0.8" fill="#c03050" stroke="none" stroke-width="1"/>
<circle cx="425.3" cy="102.7" r="0.8" fill="#c03050" stroke="none" stroke-width="1"/>
<circle cx="439.6" cy="102.7" r="0.8" fill="#c03050" stroke="none" stroke-width="1"/>
<circle cx="453.9" cy="102.7" r="0.8" fill="#c03050" stroke="none" stroke-width="1"/>
<circle cx="468.2" cy="102.7" r="0.8" fill="#c03050" stroke="none" stroke-width="1"/>
<circle cx="482.5" cy="102.7" r="0.8" fill="#c03050" stroke="none" stroke-width="1"/>
<circle cx="496.8" cy="102.7" r="0.8" fill="#c03050" stroke="none" stroke-width="1"/>
<circle cx="511.1" cy="102.7" r="0.8" fill="#c03050" stroke="none" stroke-width="1"/>
<line x1="409.2" y1="166.9" x2="511.5" y2="166.9" stroke="#50c880" stroke-width="1.2"/>
<rect x="410.2" y="166.1" width="1.6" height="1.6" fill="#2a9a50" stroke="none" stroke-width="1"/>
<rect x="424.5" y="166.1" width="1.6" height="1.6" fill="#2a9a50" stroke="none" stroke-width="1"/>
<rect x="438.8" y="166.1" width="1.6" height="1.6" fill="#2a9a50" stroke="none" stroke-width="1"/>
<rect x="453.1" y="166.1" width="1.6" height="1.6" fill="#2a9a50" stroke="none" stroke-width="1"/>
<rect x="467.4" y="166.1" width="1.6" height="1.6" fill="#2a9a50" stroke="none" stroke-width="1"/>
<rect x="481.7" y="166.1" width="1.6" height="1.6" fill="#2a9a50" stroke="none" stroke-width="1"/>
<rect x="496" y="166.1" width="1.6" height="1.6" fill="#2a9a50" stroke="none" stroke-width="1"/>
<rect x="510.3" y="166.1" width="1.6" height="1.6" fill="#2a9a50" stroke="none" stroke-width="1"/>
<polyline points="410,110.6 420,113.2 432,116.8 441.4,119.8 451.8,122.6 460,128 468,133 478,139.2 490,145.5 500,150.5 511,156" fill="none" stroke="#cdeef8" stroke-width="2" stroke-linejoin="round"/>
<polyline points="410,110.6 420,113.2 432,116.8 441.4,119.8 451.8,122.6 460,128 468,133 478,139.2 490,145.5 500,150.5 511,156" fill="none" stroke="#4cbde3" stroke-width="0.7" stroke-linejoin="round"/>
<circle cx="420" cy="113.2" r="0.8" fill="#1f5f9a" stroke="none" stroke-width="1"/>
<circle cx="441.4" cy="119.8" r="0.8" fill="#1f5f9a" stroke="none" stroke-width="1"/>
<circle cx="460" cy="128" r="0.8" fill="#1f5f9a" stroke="none" stroke-width="1"/>
<circle cx="478" cy="139.2" r="0.8" fill="#1f5f9a" stroke="none" stroke-width="1"/>
<circle cx="500" cy="150.5" r="0.8" fill="#1f5f9a" stroke="none" stroke-width="1"/>
<line x1="411" y1="99.2" x2="423" y2="99.2" stroke="#e06080" stroke-width="0.7"/>
<circle cx="417" cy="99.2" r="0.8" fill="#c03050" stroke="none" stroke-width="1"/>
<text x="425.3" y="100.6" font-family="'Liberation Serif', 'Times New Roman', serif" font-size="4.3" font-weight="bold" font-style="normal" fill="#222" text-anchor="start">B<tspan font-size="2.6" dy="0.8">H</tspan><tspan dy="-0.8">=90°</tspan></text>
<line x1="451.8" y1="99.2" x2="461" y2="99.2" stroke="#30aad8" stroke-width="0.7"/>
<circle cx="456.4" cy="99.2" r="0.8" fill="#1f5f9a" stroke="none" stroke-width="1"/>
<text x="463" y="100.6" font-family="'Liberation Serif', 'Times New Roman', serif" font-size="4.3" font-weight="bold" font-style="normal" fill="#222" text-anchor="start">B<tspan font-size="2.6" dy="0.8">H</tspan><tspan dy="-0.8">=73°</tspan></text>
<line x1="489" y1="99.2" x2="498.4" y2="99.2" stroke="#50c880" stroke-width="0.7"/>
<rect x="493" y="98.4" width="1.6" height="1.6" fill="#2a9a50" stroke="none" stroke-width="1"/>
<text x="501.5" y="100.6" font-family="'Liberation Serif', 'Times New Roman', serif" font-size="4.3" font-weight="bold" font-style="normal" fill="#222" text-anchor="start">B<tspan font-size="2.6" dy="0.8">H</tspan><tspan dy="-0.8">=0°</tspan></text>
<text x="413" y="110.9" font-family="'Liberation Serif', 'Times New Roman', serif" font-size="5.2" font-weight="bold" font-style="normal" fill="#222" text-anchor="start">(a)</text>
<text x="412" y="117.8" font-family="'Liberation Serif', 'Times New Roman', serif" font-size="2.4" font-weight="normal" font-style="normal" fill="#777" text-anchor="start">0.92</text>
<rect x="412.6" y="126.8" width="17.4" height="2" fill="#1e2d6a" stroke="none" stroke-width="1"/>
<line x1="414.5" y1="126.5" x2="418.04" y2="122.29" stroke="#e06080" stroke-width="0.5"/>
<polygon points="418.04,122.29 416.73,122.8 417.76,123.66" fill="#e06080" stroke="none" stroke-width="1"/>
<line x1="420.5" y1="126.5" x2="424.04" y2="122.29" stroke="#e06080" stroke-width="0.5"/>
<polygon points="424.04,122.29 422.73,122.8 423.76,123.66" fill="#e06080" stroke="none" stroke-width="1"/>
<line x1="426.5" y1="126.5" x2="430.04" y2="122.29" stroke="#e06080" stroke-width="0.5"/>
<polygon points="430.04,122.29 428.73,122.8 429.76,123.66" fill="#e06080" stroke="none" stroke-width="1"/>
<rect x="437.4" y="114.3" width="22" height="2.2" fill="url(#gislab)" stroke="none" stroke-width="1"/>
<line x1="439" y1="114" x2="442.15" y2="109.49" stroke="#e06080" stroke-width="0.5"/>
<polygon points="442.15,109.49 440.9,110.12 442,110.89" fill="#e06080" stroke="none" stroke-width="1"/>
<line x1="444.6" y1="114" x2="447.75" y2="109.49" stroke="#e06080" stroke-width="0.5"/>
<polygon points="447.75,109.49 446.5,110.12 447.6,110.89" fill="#e06080" stroke="none" stroke-width="1"/>
<line x1="450.2" y1="114" x2="453.35" y2="109.49" stroke="#e06080" stroke-width="0.5"/>
<polygon points="453.35,109.49 452.1,110.12 453.2,110.89" fill="#e06080" stroke="none" stroke-width="1"/>
<line x1="455.8" y1="114" x2="458.95" y2="109.49" stroke="#e06080" stroke-width="0.5"/>
<polygon points="458.95,109.49 457.7,110.12 458.8,110.89" fill="#e06080" stroke="none" stroke-width="1"/>
<line x1="441.5" y1="118" x2="441.5" y2="121" stroke="#333" stroke-width="0.4"/>
<text x="462" y="107.2" font-family="'Liberation Sans', Arial, sans-serif" font-size="2.4" font-weight="normal" font-style="normal" fill="#444" text-anchor="start">1.33 Å</text>
<line x1="467.5" y1="109" x2="467.5" y2="113.4" stroke="#777" stroke-width="0.5"/>
<line x1="493" y1="109" x2="493" y2="113.4" stroke="#777" stroke-width="0.5"/>
<line x1="471.1" y1="109" x2="471.1" y2="113.4" stroke="#777" stroke-width="0.5"/>
<line x1="496.6" y1="109" x2="496.6" y2="113.4" stroke="#777" stroke-width="0.5"/>
<line x1="474.7" y1="109" x2="474.7" y2="113.4" stroke="#777" stroke-width="0.5"/>
<line x1="500.2" y1="109" x2="500.2" y2="113.4" stroke="#777" stroke-width="0.5"/>
<line x1="478.3" y1="109" x2="478.3" y2="113.4" stroke="#777" stroke-width="0.5"/>
<line x1="503.8" y1="109" x2="503.8" y2="113.4" stroke="#777" stroke-width="0.5"/>
<line x1="481.9" y1="109" x2="481.9" y2="113.4" stroke="#777" stroke-width="0.5"/>
<line x1="507.4" y1="109" x2="507.4" y2="113.4" stroke="#777" stroke-width="0.5"/>
<rect x="466.6" y="116.3" width="15.6" height="1.8" fill="#1e2d6a" stroke="none" stroke-width="1"/>
<text x="487.3" y="118.2" font-family="'Liberation Sans', Arial, sans-serif" font-size="3" font-weight="normal" font-style="normal" fill="#333" text-anchor="start">&gt;</text>
<path d="M 493.5 119.3 Q 500.5 112.5 507.5 119.3" fill="none" stroke="#1e2d6a" stroke-width="1.8"/>
<path d="M 467.2 136.2 Q 476 131 485.7 136.5" fill="none" stroke="#1e2d6a" stroke-width="2.2"/>
<path d="M 467.2 136.2 Q 470 134.5 473 134" fill="none" stroke="#c04060" stroke-width="1.2"/>
<line x1="469" y1="134" x2="472.15" y2="129.49" stroke="#e06080" stroke-width="0.5"/>
<polygon points="472.15,129.49 470.9,130.12 472,130.89" fill="#e06080" stroke="none" stroke-width="1"/>
<line x1="473.8" y1="134" x2="476.95" y2="129.49" stroke="#e06080" stroke-width="0.5"/>
<polygon points="476.95,129.49 475.7,130.12 476.8,130.89" fill="#e06080" stroke="none" stroke-width="1"/>
<line x1="478.6" y1="134" x2="481.75" y2="129.49" stroke="#e06080" stroke-width="0.5"/>
<polygon points="481.75,129.49 480.5,130.12 481.6,130.89" fill="#e06080" stroke="none" stroke-width="1"/>
<line x1="483.4" y1="134" x2="486.55" y2="129.49" stroke="#e06080" stroke-width="0.5"/>
<polygon points="486.55,129.49 485.3,130.12 486.4,130.89" fill="#e06080" stroke="none" stroke-width="1"/>
<text x="470" y="143" font-family="'Liberation Serif', 'Times New Roman', serif" font-size="2.6" font-weight="bold" font-style="normal" fill="#333" text-anchor="start">(c)</text>
<path d="M 490.3 145 Q 499.5 140 508.7 145.5" fill="none" stroke="#1e2d6a" stroke-width="2.2"/>
<path d="M 490.3 145 Q 493 143.5 496 143" fill="none" stroke="#c04060" stroke-width="1.2"/>
<line x1="492" y1="143" x2="495.15" y2="138.49" stroke="#e06080" stroke-width="0.5"/>
<polygon points="495.15,138.49 493.9,139.12 495,139.89" fill="#e06080" stroke="none" stroke-width="1"/>
<line x1="496.6" y1="143" x2="499.75" y2="138.49" stroke="#e06080" stroke-width="0.5"/>
<polygon points="499.75,138.49 498.5,139.12 499.6,139.89" fill="#e06080" stroke="none" stroke-width="1"/>
<line x1="501.2" y1="143" x2="504.35" y2="138.49" stroke="#e06080" stroke-width="0.5"/>
<polygon points="504.35,138.49 503.1,139.12 504.2,139.89" fill="#e06080" stroke="none" stroke-width="1"/>
<line x1="505.8" y1="143" x2="508.95" y2="138.49" stroke="#e06080" stroke-width="0.5"/>
<polygon points="508.95,138.49 507.7,139.12 508.8,139.89" fill="#e06080" stroke="none" stroke-width="1"/>
<text x="493" y="152" font-family="'Liberation Serif', 'Times New Roman', serif" font-size="2.6" font-weight="bold" font-style="normal" fill="#333" text-anchor="start">(d)</text>
<line x1="417" y1="131.5" x2="417" y2="158.8" stroke="#999" stroke-width="0.4"/>
<line x1="417" y1="158.8" x2="462" y2="158.8" stroke="#999" stroke-width="0.4"/>
<text x="416.2" y="134" font-family="'Liberation Serif', 'Times New Roman', serif" font-size="2.6" font-weight="bold" font-style="normal" fill="#333" text-anchor="end">6</text>
<text x="416.2" y="141.5" font-family="'Liberation Serif', 'Times New Roman', serif" font-size="2.6" font-weight="bold" font-style="normal" fill="#333" text-anchor="end">4</text>
<text x="416.2" y="149" font-family="'Liberation Serif', 'Times New Roman', serif" font-size="2.6" font-weight="bold" font-style="normal" fill="#333" text-anchor="end">2</text>
<text x="413.2" y="146" font-family="'Liberation Serif', 'Times New Roman', serif" font-size="2.9" font-weight="bold" font-style="normal" fill="#333" text-anchor="middle" transform="rotate(-90 413.2 146)">H<tspan font-size="1.8" dy="0.6">r</tspan><tspan dy="-0.6">(kOe)</tspan></text>
<line x1="418" y1="152.5" x2="437" y2="152.5" stroke="#7cc890" stroke-width="0.8"/>
<line x1="418" y1="154.6" x2="440" y2="154.6" stroke="#e86a80" stroke-width="0.8"/>
<polyline points="418,154.6 420.1,154.6 422.2,154.57 424.3,154.51 426.4,154.4 428.5,154.22 430.6,153.97 432.7,153.63 434.8,153.2 436.9,152.65 439,151.98 441.1,151.18 443.2,150.23 445.3,149.14 447.4,147.87 449.5,146.44 451.6,144.83 453.7,143.02 455.8,141.01 457.9,138.79 460,136.34" fill="none" stroke="#e04060" stroke-width="0.6" stroke-linejoin="round" stroke-dasharray="0.8,0.6"/>
<circle cx="439" cy="151.98" r="0.75" fill="none" stroke="#c03050" stroke-width="0.35"/>
<circle cx="441.1" cy="151.18" r="0.75" fill="none" stroke="#c03050" stroke-width="0.35"/>
<circle cx="443.2" cy="150.23" r="0.75" fill="none" stroke="#c03050" stroke-width="0.35"/>
<circle cx="445.3" cy="149.14" r="0.75" fill="none" stroke="#c03050" stroke-width="0.35"/>
<circle cx="447.4" cy="147.87" r="0.75" fill="none" stroke="#c03050" stroke-width="0.35"/>
<circle cx="449.5" cy="146.44" r="0.75" fill="none" stroke="#c03050" stroke-width="0.35"/>
<circle cx="451.6" cy="144.83" r="0.75" fill="none" stroke="#c03050" stroke-width="0.35"/>
<circle cx="453.7" cy="143.02" r="0.75" fill="none" stroke="#c03050" stroke-width="0.35"/>
<circle cx="455.8" cy="141.01" r="0.75" fill="none" stroke="#c03050" stroke-width="0.35"/>
<circle cx="457.9" cy="138.79" r="0.75" fill="none" stroke="#c03050" stroke-width="0.35"/>
<circle cx="460" cy="136.34" r="0.75" fill="none" stroke="#c03050" stroke-width="0.35"/>
<circle cx="445" cy="148.1" r="0.8" fill="#1a1a2a" stroke="none" stroke-width="1"/>
<circle cx="447.3" cy="146.74" r="0.8" fill="#1a1a2a" stroke="none" stroke-width="1"/>
<circle cx="449.6" cy="145.17" r="0.8" fill="#1a1a2a" stroke="none" stroke-width="1"/>
<circle cx="451.9" cy="143.38" r="0.8" fill="#1a1a2a" stroke="none" stroke-width="1"/>
<circle cx="454.2" cy="141.36" r="0.8" fill="#1a1a2a" stroke="none" stroke-width="1"/>
<circle cx="456.5" cy="139.09" r="0.8" fill="#1a1a2a" stroke="none" stroke-width="1"/>
<circle cx="458.8" cy="136.57" r="0.8" fill="#1a1a2a" stroke="none" stroke-width="1"/>
<circle cx="461.1" cy="133.77" r="0.8" fill="#1a1a2a" stroke="none" stroke-width="1"/>
<line x1="421" y1="138" x2="427" y2="138" stroke="#e04060" stroke-width="0.6" stroke-dasharray="0.8,0.5"/>
<text x="428" y="139.2" font-family="'Liberation Sans', Arial, sans-serif" font-size="3.2" font-weight="normal" font-style="normal" fill="#333" text-anchor="start">Calculated</text>
<rect x="423.5" y="143.5" width="14.5" height="3" fill="#2c4480" stroke="none" stroke-width="1"/>
<line x1="425" y1="143.3" x2="427.18" y2="140.19" stroke="#333" stroke-width="0.35"/>
<polygon points="427.18,140.19 425.93,140.81 427.02,141.58" fill="#333" stroke="none" stroke-width="1"/>
<line x1="429.8" y1="143.3" x2="431.98" y2="140.19" stroke="#333" stroke-width="0.35"/>
<polygon points="431.98,140.19 430.73,140.81 431.82,141.58" fill="#333" stroke="none" stroke-width="1"/>
<line x1="434.6" y1="143.3" x2="436.78" y2="140.19" stroke="#333" stroke-width="0.35"/>
<polygon points="436.78,140.19 435.53,140.81 436.62,141.58" fill="#333" stroke="none" stroke-width="1"/>
<circle cx="420.5" cy="147.4" r="0.55" fill="none" stroke="#333" stroke-width="0.3"/>
<circle cx="422.1" cy="147.4" r="0.55" fill="none" stroke="#333" stroke-width="0.3"/>
<circle cx="423.7" cy="147.4" r="0.55" fill="none" stroke="#333" stroke-width="0.3"/>
<circle cx="425.3" cy="147.4" r="0.55" fill="none" stroke="#333" stroke-width="0.3"/>
<text x="427.5" y="148.4" font-family="'Liberation Sans', Arial, sans-serif" font-size="3" font-weight="normal" font-style="normal" fill="#333" text-anchor="start">Experiment</text>
<text x="443" y="151.3" font-family="'Liberation Serif', 'Times New Roman', serif" font-size="2.8" font-weight="normal" font-style="normal" fill="#333" text-anchor="start">θ<tspan font-size="1.8" dy="0.6">H</tspan><tspan dy="-0.6">=90°</tspan></text>
<text x="441" y="157.7" font-family="'Liberation Serif', 'Times New Roman', serif" font-size="2.8" font-weight="normal" font-style="normal" fill="#333" text-anchor="start">θ<tspan font-size="1.8" dy="0.6">H</tspan><tspan dy="-0.6">=0°</tspan></text>
<text x="418" y="161.3" font-family="'Liberation Serif', 'Times New Roman', serif" font-size="2.8" font-weight="bold" font-style="normal" fill="#333" text-anchor="middle">0</text>
<text x="428" y="161.3" font-family="'Liberation Serif', 'Times New Roman', serif" font-size="2.8" font-weight="bold" font-style="normal" fill="#333" text-anchor="middle">20</text>
<text x="437.5" y="161.3" font-family="'Liberation Serif', 'Times New Roman', serif" font-size="2.8" font-weight="bold" font-style="normal" fill="#333" text-anchor="middle">40</text>
<text x="447" y="161.3" font-family="'Liberation Serif', 'Times New Roman', serif" font-size="2.8" font-weight="bold" font-style="normal" fill="#333" text-anchor="middle">60</text>
<text x="456" y="161.3" font-family="'Liberation Serif', 'Times New Roman', serif" font-size="2.8" font-weight="bold" font-style="normal" fill="#333" text-anchor="middle">80</text>
<text x="438" y="165.2" font-family="'Liberation Serif', 'Times New Roman', serif" font-size="3.4" font-weight="bold" font-style="normal" fill="#333" text-anchor="middle">θ<tspan font-size="2" dy="0.7">H</tspan><tspan dy="-0.7">(°)</tspan></text>
<line x1="462.5" y1="140" x2="462.5" y2="158.8" stroke="#bbb" stroke-width="0.4"/>
<rect x="461.5" y="159.8" width="13.8" height="2" fill="#c8c8c8" stroke="none" stroke-width="1"/>
<path d="M 490.3 161.5 Q 496 158 501.8 161.5" fill="none" stroke="#c0c0c0" stroke-width="1.6"/>
<circle cx="477.6" cy="158.2" r="0.6" fill="#444" stroke="none" stroke-width="1"/>
<circle cx="505" cy="158.2" r="0.6" fill="#444" stroke="none" stroke-width="1"/>
<line x1="479" y1="158.2" x2="482" y2="158.2" stroke="#999" stroke-width="0.3"/>
<line x1="506.5" y1="158.2" x2="509.5" y2="158.2" stroke="#999" stroke-width="0.3"/>
<circle cx="477.6" cy="161.2" r="0.6" fill="#444" stroke="none" stroke-width="1"/>
<circle cx="505" cy="161.2" r="0.6" fill="#444" stroke="none" stroke-width="1"/>
<line x1="479" y1="161.2" x2="482" y2="161.2" stroke="#999" stroke-width="0.3"/>
<line x1="506.5" y1="161.2" x2="509.5" y2="161.2" stroke="#999" stroke-width="0.3"/>
<circle cx="477.6" cy="164.2" r="0.6" fill="#444" stroke="none" stroke-width="1"/>
<circle cx="505" cy="164.2" r="0.6" fill="#444" stroke="none" stroke-width="1"/>
<line x1="479" y1="164.2" x2="482" y2="164.2" stroke="#999" stroke-width="0.3"/>
<line x1="506.5" y1="164.2" x2="509.5" y2="164.2" stroke="#999" stroke-width="0.3"/>
<text x="412.8" y="175.6" font-family="'Liberation Serif', 'Times New Roman', serif" font-size="5.3" font-weight="bold" font-style="normal" fill="#222" text-anchor="middle">0.00</text>
<line x1="412" y1="170.8" x2="412" y2="169.5" stroke="#666" stroke-width="0.5"/>
<text x="429.8" y="175.6" font-family="'Liberation Serif', 'Times New Roman', serif" font-size="5.3" font-weight="bold" font-style="normal" fill="#222" text-anchor="middle">0.05</text>
<line x1="429" y1="170.8" x2="429" y2="169.5" stroke="#666" stroke-width="0.5"/>
<text x="446.8" y="175.6" font-family="'Liberation Serif', 'Times New Roman', serif" font-size="5.3" font-weight="bold" font-style="normal" fill="#222" text-anchor="middle">0.10</text>
<line x1="446" y1="170.8" x2="446" y2="169.5" stroke="#666" stroke-width="0.5"/>
<text x="463.8" y="175.6" font-family="'Liberation Serif', 'Times New Roman', serif" font-size="5.3" font-weight="bold" font-style="normal" fill="#222" text-anchor="middle">0.15</text>
<line x1="463" y1="170.8" x2="463" y2="169.5" stroke="#666" stroke-width="0.5"/>
<text x="480.8" y="175.6" font-family="'Liberation Serif', 'Times New Roman', serif" font-size="5.3" font-weight="bold" font-style="normal" fill="#222" text-anchor="middle">0.20</text>
<line x1="480" y1="170.8" x2="480" y2="169.5" stroke="#666" stroke-width="0.5"/>
<text x="497.8" y="175.6" font-family="'Liberation Serif', 'Times New Roman', serif" font-size="5.3" font-weight="bold" font-style="normal" fill="#222" text-anchor="middle">0.25</text>
<line x1="497" y1="170.8" x2="497" y2="169.5" stroke="#666" stroke-width="0.5"/>
<text x="514.8" y="175.6" font-family="'Liberation Serif', 'Times New Roman', serif" font-size="5.3" font-weight="bold" font-style="normal" fill="#222" text-anchor="middle">0.30</text>
<line x1="514" y1="170.8" x2="514" y2="169.5" stroke="#666" stroke-width="0.5"/>
<text x="406.5" y="100.8" font-family="'Liberation Serif', 'Times New Roman', serif" font-size="5.2" font-weight="bold" font-style="normal" fill="#222" text-anchor="end">7.5</text>
<text x="406.5" y="107.3" font-family="'Liberation Serif', 'Times New Roman', serif" font-size="5.2" font-weight="bold" font-style="normal" fill="#222" text-anchor="end">7.0</text>
<text x="406.5" y="118.1" font-family="'Liberation Serif', 'Times New Roman', serif" font-size="5.2" font-weight="bold" font-style="normal" fill="#222" text-anchor="end">4.8</text>
<text x="406.5" y="128.1" font-family="'Liberation Serif', 'Times New Roman', serif" font-size="5.2" font-weight="bold" font-style="normal" fill="#222" text-anchor="end">4.5</text>
<text x="406.5" y="139" font-family="'Liberation Serif', 'Times New Roman', serif" font-size="5.2" font-weight="bold" font-style="normal" fill="#222" text-anchor="end">4.2</text>
<text x="406.5" y="149.8" font-family="'Liberation Serif', 'Times New Roman', serif" font-size="5.2" font-weight="bold" font-style="normal" fill="#222" text-anchor="end">3.9</text>
<text x="406.5" y="160.1" font-family="'Liberation Serif', 'Times New Roman', serif" font-size="5.2" font-weight="bold" font-style="normal" fill="#222" text-anchor="end">3.6</text>
<text x="406.5" y="169.9" font-family="'Liberation Serif', 'Times New Roman', serif" font-size="5.2" font-weight="bold" font-style="normal" fill="#222" text-anchor="end">2.0</text>
<text x="400.6" y="125.7" font-family="'Liberation Serif', 'Times New Roman', serif" font-size="5.4" font-weight="bold" font-style="normal" fill="#111" text-anchor="middle" transform="rotate(-90 400.6 125.7)">H<tspan font-size="3" dy="1">r</tspan><tspan dy="-1">(kOe)</tspan></text>
<text x="468.5" y="190.6" font-family="'Liberation Serif', 'Times New Roman', serif" font-size="10.8" font-weight="bold" font-style="normal" fill="#111" text-anchor="middle">1/R(mm<tspan font-size="6.3" dy="-3.6">-1</tspan><tspan dy="3.6">)</tspan></text>
<text x="2" y="99.2" font-family="'Liberation Sans', Arial, sans-serif" font-size="9" font-weight="bold" font-style="normal" fill="#000" text-anchor="start">f</text>
<text x="103.4" y="98.4" font-family="'Liberation Serif', 'Times New Roman', serif" font-size="11.5" font-weight="bold" font-style="normal" fill="#000" text-anchor="start">g</text>
<text x="242.6" y="99.4" font-family="'Liberation Sans', Arial, sans-serif" font-size="9" font-weight="bold" font-style="normal" fill="#000" text-anchor="start">h</text>
<text x="393.2" y="99.2" font-family="'Liberation Serif', 'Times New Roman', serif" font-size="10.5" font-weight="bold" font-style="normal" fill="#000" text-anchor="start">i</text>
<rect x="9.6" y="205.3" width="73.6" height="70.2" fill="none" stroke="#b0b0b0" stroke-width="0.7"/>
<line x1="9.6" y1="205.3" x2="83.2" y2="205.3" stroke="#444" stroke-width="0.8"/>
<rect x="89.2" y="205.3" width="72.4" height="70.2" fill="none" stroke="#b0b0b0" stroke-width="0.7"/>
<line x1="89.2" y1="205.3" x2="161.6" y2="205.3" stroke="#444" stroke-width="0.8"/>
<rect x="167.7" y="205.3" width="72" height="70.2" fill="none" stroke="#b0b0b0" stroke-width="0.7"/>
<line x1="167.7" y1="205.3" x2="239.7" y2="205.3" stroke="#444" stroke-width="0.8"/>
<polyline points="9.8,248.64 10.25,250.89 10.7,248.38 11.15,250.95 11.6,247.88 12.05,249.93 12.5,248.87 12.95,251.19 13.4,248.33 13.85,250.01 14.3,246.9 14.75,250.29 15.2,247.04 15.65,250.15 16.1,247.23 16.55,249.42 17,247.07 17.45,250.51 17.9,247.1 18.35,250.12 18.8,246.67 19.25,248.76 19.7,246.35 20.15,249.52 20.6,247 21.05,248.39 21.5,245.86 21.95,249.03 22.4,245.98 22.85,249.62 23.3,245.88 23.75,249.59 24.2,246.36 24.65,249.31 25.1,246.21 25.55,249.5 26,245.42 26.45,248 26.9,246.52 27.35,246.97 27.8,246 28.25,245.95 28.7,244.88 29.15,244.66 29.6,243.73 30.05,243.64 30.5,242.97 30.95,243.24 31.4,242.71 31.85,243.06 32.3,242.16 32.75,242.35 33.2,241.24 33.65,241.39 34.1,240.26 34.55,240.12 35,239.22 35.45,239.46 35.9,238.47 36.35,238.81 36.8,238.23 37.25,238.71 37.7,238.49 38.15,239.31 38.6,239.24 39.05,239.77 39.5,239.59 39.95,240.35 40.4,240 40.85,240.69 41.3,240.66 41.75,241.52 42.2,241.88 42.65,242.94 43.1,242.92 43.55,243.8 44,243.81 44.45,244.28 44.9,243.54 45.35,242.83 45.8,240.86 46.25,240.08 46.7,238.52 47.15,238.74 47.6,236.82 48.05,234.59 48.5,231.46 48.95,229.38 49.4,227.92 49.85,226.4 50.3,221.06 50.75,218.16 51.2,215.8 51.65,215.18 52.1,217.72 52.55,220.14 53,225.71 53.45,231.68 53.9,232.43 54.35,235.3 54.8,237.49 55.25,239.04 55.7,238.86 56.15,239.86 56.6,239.78 57.05,240.5 57.5,239.48 57.95,238.66 58.4,236.81 58.85,235.98 59.3,235.13 59.75,234.92 60.2,233.13 60.65,232.07 61.1,231.04 61.55,231.82 62,232.81 62.45,234.72 62.9,235.46 63.35,236.17 63.8,236.94 64.25,239.16 64.7,240.38 65.15,241.66 65.6,241.41 66.05,242.52 66.5,242.97 66.95,244.04 67.4,243.2 67.85,247.68 68.3,245.07 68.75,247.28 69.2,244.76 69.65,247.58 70.1,245.92 70.55,248.43 71,246.75 71.45,249.64 71.9,247.33 72.35,249.41 72.8,246.52 73.25,248.84 73.7,246.95 74.15,250.18 74.6,247.52 75.05,249.4 75.5,246.79 75.95,249.59 76.4,248.04 76.85,250.11 77.3,247.32 77.75,249.7 78.2,248.16 78.65,250.29 79.1,247.44 79.55,250.64 80,247.56 80.45,250.31 80.9,248.6 81.35,251.28 81.8,247.74 82.25,251 82.7,248.96" fill="none" stroke="#111" stroke-width="0.75" stroke-linejoin="round"/>
<polyline points="9.8,266.29 10.2,273.15 10.6,265.65 11,273.89 11.4,265.86 11.8,273.81 12.2,268.47 12.6,272.13 13,265.11 13.4,272.81 13.8,265.26 14.2,270.84 14.6,266.85 15,271.33 15.4,266.58 15.8,272.53 16.2,268.53 16.6,271.22 17,267.55 17.4,273.79 17.8,265.76 18.2,271.01 18.6,265.65 19,270.93 19.4,266.31 19.8,270.89 20.2,268.57 20.6,273.63 21,267.81 21.4,271.21 21.8,264.96 22.2,273.63 22.6,267.52 23,273.96 23.4,266.6 23.8,272.91 24.2,267.83 24.6,273.88 25,266.04 25.4,273.98 25.8,265.29 26.2,271.52 26.6,267.25 27,271.03 27.4,268.04 27.8,270.66 28.2,267.47 28.6,272.64 29,268.57 29.4,272.91 29.8,267.34 30.2,271.56 30.6,265.57 31,272.19 31.4,267.42 31.8,272.19 32.2,265.99 32.6,270.63 33,264.99 33.4,270.5 33.8,265.82 34.2,273.53 34.6,268.51 35,273.32 35.4,267.23 35.8,272.55 36.2,268.55 36.6,270.59 37,267.91 37.4,273.94 37.8,267.86 38.2,273.2 38.6,265.16 39,273.89 39.4,267.31 39.8,271.73 40.2,266.65 40.6,273.27 41,268.18 41.4,273.17 41.8,265.65 42.2,273.58 42.6,268.45 43,273.9 43.4,268.24 43.8,271.67 44.2,266.33 44.6,273.8 45,267.33 45.4,273.82 45.8,266.57 46.2,271.57 46.6,267.41 47,271.07 47.4,268.12 47.8,270.35 48.2,267.82 48.6,268.17 49,266.71 49.4,266.51 49.8,265.45 50.2,266.27 50.6,264.85 51,264.16 51.4,261.99 51.8,261.33 52.2,259.06 52.6,258.71 53,257.85 53.4,258.36 53.8,257.13 54.2,256.85 54.6,255.09 55,254.9 55.4,253.44 55.8,253.89 56.2,252.59 56.6,253.64 57,253.5 57.4,254.78 57.8,255.14 58.2,256.68 58.6,256.5 59,257.34 59.4,256.79 59.8,258.93 60.2,259.23 60.6,261.74 61,262.57 61.4,264.64 61.8,264.55 62.2,265.29 62.6,264.96 63,265.89 63.4,265.97 63.8,267.51 64.2,263.13 64.6,271.46 65,266.04 65.4,271.39 65.8,268.22 66.2,271.42 66.6,265.7 67,273.61 67.4,267.25 67.8,273.31 68.2,265.73 68.6,272.98 69,266.14 69.4,273.22 69.8,267.24 70.2,273.01 70.6,267.55 71,272.21 71.4,265.75 71.8,272.96 72.2,267.5 72.6,273.9 73,266.19 73.4,272.56 73.8,268.54 74.2,272.43 74.6,267.66 75,272.89 75.4,266.88 75.8,273.43 76.2,266.2 76.6,273.36 77,267.3 77.4,272.79 77.8,265.86 78.2,273.47 78.6,267.29 79,273.52 79.4,265.38 79.8,272.95 80.2,264.99 80.6,273.94 81,266.67 81.4,272.37 81.8,267.97 82.2,273.5 82.6,265.13 83,272.18" fill="none" stroke="#2626e6" stroke-width="0.75" stroke-linejoin="round"/>
<text x="18.4" y="210.6" font-family="'Liberation Serif', 'Times New Roman', serif" font-size="4.6" font-weight="bold" font-style="normal" fill="#111" text-anchor="start">(001)</text>
<text x="12.8" y="244" font-family="'Liberation Serif', 'Times New Roman', serif" font-size="4.8" font-weight="normal" font-style="italic" fill="#222" text-anchor="start">Strained</text>
<text x="12.6" y="261.3" font-family="'Liberation Serif', 'Times New Roman', serif" font-size="4.8" font-weight="normal" font-style="italic" fill="#4a4af0" text-anchor="start">Freestanding</text>
<text x="37.2" y="235.5" font-family="'Liberation Serif', 'Times New Roman', serif" font-size="3" font-weight="normal" font-style="normal" fill="#666" text-anchor="start" transform="rotate(-90 37.2 235.5)">LSMO(002)</text>
<text x="50.2" y="222" font-family="'Liberation Serif', 'Times New Roman', serif" font-size="3" font-weight="normal" font-style="normal" fill="#666" text-anchor="start" transform="rotate(-90 50.2 222)">STO(002)</text>
<text x="61.4" y="228.5" font-family="'Liberation Serif', 'Times New Roman', serif" font-size="3" font-weight="normal" font-style="normal" fill="#666" text-anchor="start" transform="rotate(-90 61.4 228.5)">LSMO(002)</text>
<polyline points="89.4,249.14 89.85,248.98 90.3,249.42 90.75,248.88 91.2,249.28 91.65,249.1 92.1,248.8 92.55,249.17 93,248.71 93.45,249.03 93.9,248.67 94.35,248.65 94.8,248.92 95.25,249.24 95.7,248.57 96.15,248.63 96.6,248.96 97.05,249.21 97.5,248.85 97.95,248.66 98.4,249.16 98.85,248.31 99.3,249.03 99.75,248.51 100.2,248.38 100.65,248.34 101.1,248.48 101.55,248.9 102,248.27 102.45,248.56 102.9,248.54 103.35,248.22 103.8,248.28 104.25,247.75 104.7,247.64 105.15,247.67 105.6,247.99 106.05,247.65 106.5,247.43 106.95,247.57 107.4,247.34 107.85,247.1 108.3,247.45 108.75,247.27 109.2,246.77 109.65,246.99 110.1,246.88 110.55,247.14 111,246.96 111.45,246.53 111.9,247.14 112.35,246.35 112.8,246.55 113.25,246.7 113.7,245.93 114.15,245.95 114.6,245.21 115.05,245.4 115.5,245.09 115.95,244.5 116.4,244.35 116.85,243.42 117.3,243.36 117.75,242.88 118.2,242.52 118.65,242.11 119.1,242.21 119.55,242.12 120,241.6 120.45,241.74 120.9,241.09 121.35,241.46 121.8,241.11 122.25,241.05 122.7,240.49 123.15,239.56 123.6,239.2 124.05,239.01 124.5,238.02 124.95,238.05 125.4,237.5 125.85,237.25 126.3,237.11 126.75,237.62 127.2,236.61 127.65,236.18 128.1,235.86 128.55,236.09 129,231.84 129.45,226.16 129.9,222.22 130.35,218.38 130.8,210.89 131.25,213.16 131.7,219.48 132.15,222.98 132.6,226.95 133.05,233.94 133.5,237.41 133.95,236.49 134.4,236.04 134.85,235.55 135.3,235.15 135.75,235.3 136.2,235.6 136.65,235.62 137.1,235.7 137.55,236.23 138,236.14 138.45,236.18 138.9,236.33 139.35,235.88 139.8,235.52 140.25,235.46 140.7,235.46 141.15,235.45 141.6,237.49 142.05,238.78 142.5,239.82 142.95,240.03 143.4,240.62 143.85,242.17 144.3,243.7 144.75,245.9 145.2,246.71 145.65,247.3 146.1,247.49 146.55,247.62 147,248.01 147.45,248.01 147.9,248.21 148.35,248.52 148.8,248.54 149.25,248.79 149.7,248.5 150.15,249.3 150.6,249.12 151.05,248.76 151.5,248.92 151.95,249.09 152.4,249.19 152.85,249.07 153.3,249.83 153.75,250.06 154.2,249.7 154.65,249.82 155.1,249.58 155.55,249.7 156,250.03 156.45,250.07 156.9,250.68 157.35,250.18 157.8,250.15 158.25,251.08 158.7,250.78 159.15,250.5 159.6,250.92 160.05,250.51 160.5,250.99 160.95,251.42 161.4,251.33" fill="none" stroke="#111" stroke-width="0.7" stroke-linejoin="round"/>
<polyline points="89.4,269.37 89.85,270.55 90.3,269.66 90.75,270.98 91.2,269.77 91.65,270.66 92.1,268.99 92.55,270.29 93,269.29 93.45,270.76 93.9,269.74 94.35,270.55 94.8,269.16 95.25,270.62 95.7,269.14 96.15,270.36 96.6,269.57 97.05,270.32 97.5,269.33 97.95,271.03 98.4,269.26 98.85,270.9 99.3,269.44 99.75,270.88 100.2,269.69 100.65,270.48 101.1,269.19 101.55,270.86 102,269.41 102.45,270.3 102.9,269.55 103.35,270.4 103.8,269.53 104.25,270.93 104.7,269.6 105.15,271 105.6,269.01 106.05,270.27 106.5,269.45 106.95,270.65 107.4,269.76 107.85,270.59 108.3,268.98 108.75,270.32 109.2,269.25 109.65,270.33 110.1,269.27 110.55,271.01 111,269.6 111.45,270.23 111.9,269.71 112.35,270.69 112.8,269.76 113.25,270.29 113.7,269.34 114.15,271.03 114.6,269.41 115.05,270.57 115.5,269.22 115.95,270.3 116.4,269.27 116.85,270.37 117.3,269.24 117.75,271.06 118.2,269.73 118.65,270.71 119.1,269.25 119.55,270.35 120,269.54 120.45,271.1 120.9,268.9 121.35,270.33 121.8,269.16 122.25,271.06 122.7,269.57 123.15,270.76 123.6,269.74 124.05,270.54 124.5,269.07 124.95,270.36 125.4,268.33 125.85,269.06 126.3,268.07 126.75,268.01 127.2,266.95 127.65,266.91 128.1,266.16 128.55,266.44 129,265.77 129.45,265.79 129.9,264.67 130.35,264.04 130.8,262.41 131.25,261.38 131.7,259.79 132.15,259.09 132.6,258.13 133.05,258.24 133.5,257.73 133.95,257.74 134.4,256.87 134.85,256.69 135.3,255.61 135.75,255.75 136.2,255.13 136.65,255.67 137.1,255.6 137.55,256.54 138,256.74 138.45,257.72 138.9,257.59 139.35,258.16 139.8,257.82 140.25,258.91 140.7,259.47 141.15,261.08 141.6,261.99 142.05,263.75 142.5,264.67 142.95,265.93 143.4,265.87 143.85,266.38 144.3,265.88 144.75,266.77 145.2,266.84 145.65,267.44 146.1,267.71 146.55,268.5 147,268.56 147.45,270.3 147.9,269.05 148.35,270.19 148.8,269.27 149.25,270.34 149.7,269.7 150.15,270.71 150.6,269.17 151.05,270.28 151.5,269.38 151.95,270.84 152.4,269.11 152.85,270.56 153.3,269 153.75,270.37 154.2,269.15 154.65,270.9 155.1,269.01 155.55,270.66 156,269.69 156.45,270.26 156.9,269.31 157.35,270.37 157.8,269.23 158.25,270.29 158.7,269.09 159.15,270.42 159.6,269.77 160.05,270.37 160.5,269.38 160.95,270.71 161.4,269.44" fill="none" stroke="#2626e6" stroke-width="0.75" stroke-linejoin="round"/>
<text x="98" y="209.6" font-family="'Liberation Serif', 'Times New Roman', serif" font-size="4.6" font-weight="bold" font-style="normal" fill="#111" text-anchor="start">(110)</text>
<text x="91.6" y="244.2" font-family="'Liberation Serif', 'Times New Roman', serif" font-size="4.8" font-weight="normal" font-style="italic" fill="#222" text-anchor="start">Strained</text>
<text x="91.6" y="262.8" font-family="'Liberation Serif', 'Times New Roman', serif" font-size="4.8" font-weight="normal" font-style="italic" fill="#4a4af0" text-anchor="start">Freestanding</text>
<text x="119.6" y="234.5" font-family="'Liberation Serif', 'Times New Roman', serif" font-size="3" font-weight="normal" font-style="normal" fill="#666" text-anchor="start" transform="rotate(-90 119.6 234.5)">LSMO(110)</text>
<text x="128.8" y="224.5" font-family="'Liberation Serif', 'Times New Roman', serif" font-size="3" font-weight="normal" font-style="normal" fill="#666" text-anchor="start" transform="rotate(-90 128.8 224.5)">STO(110)</text>
<text x="142" y="234.5" font-family="'Liberation Serif', 'Times New Roman', serif" font-size="3" font-weight="normal" font-style="normal" fill="#666" text-anchor="start" transform="rotate(-90 142 234.5)">LSMO(110)</text>
<polyline points="167.9,247.82 168.35,250.36 168.8,247.02 169.25,250.19 169.7,247.7 170.15,250.37 170.6,248.22 171.05,250.22 171.5,247.44 171.95,250.66 172.4,248.31 172.85,249.79 173.3,248.27 173.75,250.6 174.2,247.21 174.65,249.26 175.1,246.67 175.55,250.76 176,247.17 176.45,250.11 176.9,247.95 177.35,249.05 177.8,247.26 178.25,249.06 178.7,247.77 179.15,249.31 179.6,247.98 180.05,249.62 180.5,247.23 180.95,250.2 181.4,247.04 181.85,249.8 182.3,247.02 182.75,249.78 183.2,247.03 183.65,249.08 184.1,246.08 184.55,250.24 185,246.3 185.45,249.72 185.9,247.14 186.35,248.88 186.8,247.15 187.25,248.58 187.7,246.32 188.15,249.11 188.6,246.17 189.05,249.07 189.5,245.97 189.95,249.84 190.4,247.55 190.85,248.66 191.3,245.81 191.75,248.8 192.2,247.05 192.65,247.36 193.1,246.86 193.55,246.97 194,246.23 194.45,246.48 194.9,246.08 195.35,246.23 195.8,245.67 196.25,246.25 196.7,245.65 197.15,245.54 197.6,244.85 198.05,244.53 198.5,243.66 198.95,243.63 199.4,242.96 199.85,243.21 200.3,242.75 200.75,242.57 201.2,241.26 201.65,240.51 202.1,239.01 202.55,238.27 203,237.2 203.45,237.15 203.9,235.72 204.35,233.8 204.8,230.38 205.25,228.7 205.7,227.23 206.15,223.18 206.6,218.33 207.05,217.51 207.5,214.49 207.95,215.56 208.4,219.13 208.85,221.7 209.3,227.55 209.75,230.33 210.2,231.99 210.65,235.14 211.1,237.12 211.55,237.79 212,237.77 212.45,238.71 212.9,238.98 213.35,240.02 213.8,240.06 214.25,240.95 214.7,240.57 215.15,241.1 215.6,240.64 216.05,240.84 216.5,240.37 216.95,240.96 217.4,240.49 217.85,240.73 218.3,240.32 218.75,241.14 219.2,241.23 219.65,242.43 220.1,242.6 220.55,243.91 221,244.06 221.45,244.6 221.9,244.49 222.35,245.14 222.8,245.01 223.25,245.84 223.7,245.9 224.15,248.33 224.6,245.54 225.05,248.25 225.5,246.88 225.95,249.33 226.4,247.17 226.85,248.52 227.3,246.38 227.75,249.62 228.2,246.35 228.65,248.74 229.1,245.93 229.55,248.71 230,247.56 230.45,248.94 230.9,246.97 231.35,248.73 231.8,247.56 232.25,249.39 232.7,247.04 233.15,249.14 233.6,247.54 234.05,250.56 234.5,246.65 234.95,250.31 235.4,247.27 235.85,250.31 236.3,248.31 236.75,249.5 237.2,248.62 237.65,251.06 238.1,247.55 238.55,251.21 239,248.73 239.45,250.69" fill="none" stroke="#111" stroke-width="0.75" stroke-linejoin="round"/>
<polyline points="167.9,264.88 168.3,270.89 168.7,263.11 169.1,271.57 169.5,265.19 169.9,269 170.3,265.35 170.7,268.98 171.1,262.91 171.5,268.58 171.9,263.75 172.3,268.93 172.7,264.73 173.1,269.84 173.5,262.48 173.9,270.57 174.3,265.9 174.7,269.19 175.1,265.35 175.5,271.66 175.9,262.59 176.3,271.39 176.7,262.52 177.1,271.14 177.5,262.01 177.9,271.34 178.3,264.89 178.7,271.58 179.1,263.93 179.5,271.18 179.9,263.61 180.3,269.83 180.7,264.44 181.1,269.83 181.5,264.65 181.9,268.53 182.3,262.55 182.7,271.36 183.1,261.86 183.5,270.91 183.9,263.65 184.3,271.15 184.7,265.4 185.1,270.86 185.5,264.12 185.9,268.77 186.3,265.12 186.7,270.21 187.1,264.91 187.5,269.95 187.9,263.44 188.3,269.69 188.7,265.42 189.1,270.08 189.5,264.98 189.9,269.02 190.3,265.15 190.7,269.56 191.1,265.66 191.5,270.75 191.9,261.99 192.3,269.66 192.7,262.97 193.1,271.92 193.5,265.78 193.9,268.63 194.3,262.61 194.7,271.53 195.1,263.3 195.5,268.7 195.9,264.24 196.3,271.65 196.7,262.27 197.1,271.38 197.5,265.12 197.9,271.59 198.3,264.4 198.7,271.02 199.1,265.38 199.5,271.82 199.9,262.67 200.3,269.56 200.7,262.75 201.1,264.4 201.5,262.3 201.9,262.72 202.3,261.05 202.7,261.8 203.1,260.57 203.5,261.2 203.9,260.13 204.3,260.56 204.7,258.98 205.1,258.87 205.5,257.56 205.9,257.73 206.3,255.88 206.7,256.53 207.1,255.41 207.5,256 207.9,255.02 208.3,255.55 208.7,254.92 209.1,255.75 209.5,254.32 209.9,254.72 210.3,253.72 210.7,254.52 211.1,253.58 211.5,254.34 211.9,253.51 212.3,254.98 212.7,254.32 213.1,255.28 213.5,254.67 213.9,256.41 214.3,255.24 214.7,256.48 215.1,255.35 215.5,256.6 215.9,256.42 216.3,257.75 216.7,257.09 217.1,259.41 217.5,259.13 217.9,260.94 218.3,260.16 218.7,261.86 219.1,261.26 219.5,262.44 219.9,261.83 220.3,263.05 220.7,263.03 221.1,266.68 221.5,263.83 221.9,268.52 222.3,265.08 222.7,271.09 223.1,263.46 223.5,268.06 223.9,262.74 224.3,268.83 224.7,263.96 225.1,270.35 225.5,264.58 225.9,269.24 226.3,264.15 226.7,268.61 227.1,262.37 227.5,268.51 227.9,262.53 228.3,268.95 228.7,264.7 229.1,269.66 229.5,265.82 229.9,268.57 230.3,264.46 230.7,269.88 231.1,262.31 231.5,272.16 231.9,265.78 232.3,270.27 232.7,265.42 233.1,271.38 233.5,264.62 233.9,271.75 234.3,263.69 234.7,268.56 235.1,265.94 235.5,269.07 235.9,262.35 236.3,268.66 236.7,263.97 237.1,269.59 237.5,264.52 237.9,271.38 238.3,265.07 238.7,271.03 239.1,263.19 239.5,271.93" fill="none" stroke="#2626e6" stroke-width="0.75" stroke-linejoin="round"/>
<text x="175.4" y="210" font-family="'Liberation Serif', 'Times New Roman', serif" font-size="4.6" font-weight="bold" font-style="normal" fill="#111" text-anchor="start">(111)</text>
<text x="168.3" y="243.4" font-family="'Liberation Serif', 'Times New Roman', serif" font-size="4.8" font-weight="normal" font-style="italic" fill="#222" text-anchor="start">Strained</text>
<text x="169" y="261.5" font-family="'Liberation Serif', 'Times New Roman', serif" font-size="4.8" font-weight="normal" font-style="italic" fill="#4a4af0" text-anchor="start">Freestanding</text>
<text x="200.6" y="236" font-family="'Liberation Serif', 'Times New Roman', serif" font-size="3" font-weight="normal" font-style="normal" fill="#666" text-anchor="start" transform="rotate(-90 200.6 236)">LSMO(111)</text>
<text x="209.2" y="226" font-family="'Liberation Serif', 'Times New Roman', serif" font-size="3" font-weight="normal" font-style="normal" fill="#666" text-anchor="start" transform="rotate(-90 209.2 226)">STO(111)</text>
<text x="219.3" y="238.5" font-family="'Liberation Serif', 'Times New Roman', serif" font-size="3" font-weight="normal" font-style="normal" fill="#666" text-anchor="start" transform="rotate(-90 219.3 238.5)">LSMO(111)</text>
<defs><linearGradient id="gj3" x1="0" y1="0" x2="0" y2="1"><stop offset="0" stop-color="#d4d4d0"/><stop offset="0.45" stop-color="#c9c9c4"/><stop offset="0.47" stop-color="#d0a426"/><stop offset="0.68" stop-color="#c89a1c"/><stop offset="0.7" stop-color="#e0d6a0"/><stop offset="0.8" stop-color="#d8d4c0"/><stop offset="0.82" stop-color="#9a9aa2"/><stop offset="1" stop-color="#8c8c96"/></linearGradient></defs>
<rect x="167.6" y="213.4" width="28.4" height="23.2" fill="url(#gj3)" stroke="none" stroke-width="1"/>
<rect x="179.6" y="224.2" width="4.6" height="4.2" fill="#6a4a14" stroke="none" stroke-width="1"/>
<rect x="169" y="233" width="2.2" height="2.6" fill="#3a3a44" stroke="none" stroke-width="1"/>
<rect x="174.5" y="233" width="2.2" height="2.6" fill="#3a3a44" stroke="none" stroke-width="1"/>
<rect x="186" y="233" width="2.2" height="2.6" fill="#3a3a44" stroke="none" stroke-width="1"/>
<rect x="191" y="233" width="2.2" height="2.6" fill="#3a3a44" stroke="none" stroke-width="1"/>
<text x="22.1" y="280.2" font-family="'Liberation Serif', 'Times New Roman', serif" font-size="4.2" font-weight="normal" font-style="normal" fill="#333" text-anchor="middle">44</text>
<text x="46.2" y="280.2" font-family="'Liberation Serif', 'Times New Roman', serif" font-size="4.2" font-weight="normal" font-style="normal" fill="#333" text-anchor="middle">46</text>
<text x="70" y="280.2" font-family="'Liberation Serif', 'Times New Roman', serif" font-size="4.2" font-weight="normal" font-style="normal" fill="#333" text-anchor="middle">48</text>
<text x="89.5" y="280.2" font-family="'Liberation Serif', 'Times New Roman', serif" font-size="4.2" font-weight="normal" font-style="normal" fill="#333" text-anchor="middle">30</text>
<text x="125" y="280.2" font-family="'Liberation Serif', 'Times New Roman', serif" font-size="4.2" font-weight="normal" font-style="normal" fill="#333" text-anchor="middle">32</text>
<text x="158.5" y="280.2" font-family="'Liberation Serif', 'Times New Roman', serif" font-size="4.2" font-weight="normal" font-style="normal" fill="#333" text-anchor="middle">34</text>
<text x="175.5" y="280.2" font-family="'Liberation Serif', 'Times New Roman', serif" font-size="4.2" font-weight="normal" font-style="normal" fill="#333" text-anchor="middle">38</text>
<text x="207.7" y="280.2" font-family="'Liberation Serif', 'Times New Roman', serif" font-size="4.2" font-weight="normal" font-style="normal" fill="#333" text-anchor="middle">40</text>
<text x="238.5" y="280.2" font-family="'Liberation Serif', 'Times New Roman', serif" font-size="4.2" font-weight="normal" font-style="normal" fill="#333" text-anchor="middle">42</text>
<text x="48" y="288.3" font-family="'Liberation Serif', 'Times New Roman', serif" font-size="5.6" font-weight="normal" font-style="italic" fill="#222" text-anchor="middle">2 Theta (°)</text>
<text x="126" y="288.3" font-family="'Liberation Serif', 'Times New Roman', serif" font-size="5.6" font-weight="normal" font-style="italic" fill="#222" text-anchor="middle">2 Theta (°)</text>
<text x="205.5" y="288.3" font-family="'Liberation Serif', 'Times New Roman', serif" font-size="5.6" font-weight="normal" font-style="italic" fill="#222" text-anchor="middle">2 Theta (°)</text>
<text x="5.4" y="241" font-family="'Liberation Serif', 'Times New Roman', serif" font-size="6.2" font-weight="normal" font-style="italic" fill="#222" text-anchor="middle" transform="rotate(-90 5.4 241)">Intensity</text>
<rect x="264.2" y="204.8" width="71.8" height="46.9" fill="#fff" stroke="#222" stroke-width="0.9"/>
<polyline points="265.93,212.8 267.33,213.44 268.74,214.07 270.14,214.71 271.54,215.35 272.94,216 274.34,216.66 275.74,217.33 277.14,218.04 278.54,218.78 279.94,219.57 281.35,220.44 282.75,221.38 284.15,222.43 285.55,223.61 286.95,224.93 288.35,226.44 289.75,228.16 291.15,230.13 291.5,230.66 291.85,231.22 292.2,231.79 292.55,232.38 292.9,233 293.25,233.64 293.6,234.3 293.95,234.98 294.3,235.69 294.65,236.43 295,237.2 295.36,237.99 295.71,238.82 296.06,239.69 296.41,240.59 296.76,241.53 297.11,242.52 297.46,243.57 297.81,244.68 298.16,245.88 298.51,247.21 298.86,248.9 298.86,248.9" fill="none" stroke="#1a1a1a" stroke-width="0.9" stroke-linejoin="round"/>
<polyline points="265.93,230.25 267.33,230.26 268.74,230.29 270.14,230.34 271.54,230.42 272.94,230.53 274.34,230.68 275.74,230.87 277.14,231.11 278.54,231.39 279.94,231.73 281.35,232.13 282.75,232.59 284.15,233.13 285.55,233.74 286.95,234.44 288.35,235.24 289.75,236.15 291.15,237.19 291.5,237.47 291.85,237.76 292.2,238.06 292.55,238.38 292.9,238.7 293.25,239.04 293.6,239.39 293.95,239.75 294.3,240.13 294.65,240.53 295,240.95 295.36,241.38 295.71,241.84 296.06,242.32 296.41,242.84 296.76,243.39 297.11,243.97 297.46,244.62 297.81,245.33 298.16,246.14 298.51,247.13 298.86,248.9 298.86,248.9" fill="none" stroke="#e02a2a" stroke-width="0.8" stroke-linejoin="round" stroke-dasharray="1.2,0.7"/>
<polyline points="265.93,236.73 267.33,236.73 268.74,236.75 270.14,236.78 271.54,236.83 272.94,236.9 274.34,236.99 275.74,237.1 277.14,237.24 278.54,237.41 279.94,237.62 281.35,237.86 282.75,238.14 284.15,238.47 285.55,238.85 286.95,239.28 288.35,239.77 289.75,240.33 291.15,240.98 291.5,241.15 291.85,241.33 292.2,241.52 292.55,241.72 292.9,241.93 293.25,242.14 293.6,242.36 293.95,242.59 294.3,242.84 294.65,243.09 295,243.36 295.36,243.64 295.71,243.93 296.06,244.25 296.41,244.59 296.76,244.95 297.11,245.34 297.46,245.77 297.81,246.25 298.16,246.81 298.51,247.52 298.86,248.9 298.86,248.9" fill="none" stroke="#6a6a6a" stroke-width="0.7" stroke-linejoin="round"/>
<polyline points="265.93,241.13 267.33,241.13 268.74,241.15 270.14,241.16 271.54,241.19 272.94,241.24 274.34,241.29 275.74,241.37 277.14,241.46 278.54,241.57 279.94,241.7 281.35,241.85 282.75,242.03 284.15,242.24 285.55,242.48 286.95,242.76 288.35,243.07 289.75,243.43 291.15,243.84 291.5,243.95 291.85,244.07 292.2,244.19 292.55,244.32 292.9,244.45 293.25,244.58 293.6,244.73 293.95,244.87 294.3,245.03 294.65,245.19 295,245.36 295.36,245.54 295.71,245.73 296.06,245.93 296.41,246.15 296.76,246.38 297.11,246.63 297.46,246.9 297.81,247.21 298.16,247.57 298.51,248.02 298.86,248.9 298.86,248.9" fill="none" stroke="#e02a2a" stroke-width="0.7" stroke-linejoin="round"/>
<polyline points="265.93,242.43 267.33,242.43 268.74,242.44 270.14,242.45 271.54,242.48 272.94,242.51 274.34,242.56 275.74,242.62 277.14,242.7 278.54,242.79 279.94,242.9 281.35,243.03 282.75,243.18 284.15,243.35 285.55,243.55 286.95,243.78 288.35,244.04 289.75,244.34 291.15,244.68 291.5,244.78 291.85,244.88 292.2,244.98 292.55,245.08 292.9,245.19 293.25,245.3 293.6,245.42 293.95,245.55 294.3,245.67 294.65,245.81 295,245.95 295.36,246.1 295.71,246.26 296.06,246.43 296.41,246.6 296.76,246.8 297.11,247.01 297.46,247.23 297.81,247.49 298.16,247.79 298.51,248.16 298.86,248.9 298.86,248.9" fill="none" stroke="#1a1a1a" stroke-width="0.9" stroke-linejoin="round" stroke-dasharray="0.8,0.8"/>
<polyline points="265.93,241.91 267.33,241.91 268.74,241.92 270.14,241.94 271.54,241.97 272.94,242 274.34,242.06 275.74,242.12 277.14,242.2 278.54,242.3 279.94,242.42 281.35,242.56 282.75,242.72 284.15,242.91 285.55,243.12 286.95,243.37 288.35,243.65 289.75,243.98 291.15,244.35 291.5,244.45 291.85,244.55 292.2,244.66 292.55,244.78 292.9,244.89 293.25,245.02 293.6,245.14 293.95,245.28 294.3,245.42 294.65,245.56 295,245.72 295.36,245.88 295.71,246.05 296.06,246.23 296.41,246.42 296.76,246.63 297.11,246.85 297.46,247.1 297.81,247.38 298.16,247.7 298.51,248.11 298.86,248.9 298.86,248.9" fill="none" stroke="#ee7070" stroke-width="0.6" stroke-linejoin="round" stroke-dasharray="1.2,0.7"/>
<line x1="298.86" y1="248.3" x2="336" y2="248.3" stroke="#e02a2a" stroke-width="0.8"/>
<line x1="298.86" y1="249.2" x2="336" y2="249.2" stroke="#333" stroke-width="0.5"/>
<text x="316.8" y="233.2" font-family="'Liberation Sans', Arial, sans-serif" font-size="5.4" font-weight="normal" font-style="normal" fill="#222" text-anchor="middle">STO   (001)</text>
<text x="262.6" y="208.46" font-family="'Liberation Sans', Arial, sans-serif" font-size="2.8" font-weight="normal" font-style="normal" fill="#444" text-anchor="end">1.6</text>
<line x1="264.2" y1="207.46" x2="265.2" y2="207.46" stroke="#333" stroke-width="0.3"/>
<text x="262.6" y="218.82" font-family="'Liberation Sans', Arial, sans-serif" font-size="2.8" font-weight="normal" font-style="normal" fill="#444" text-anchor="end">1.2</text>
<line x1="264.2" y1="217.82" x2="265.2" y2="217.82" stroke="#333" stroke-width="0.3"/>
<text x="262.6" y="229.18" font-family="'Liberation Sans', Arial, sans-serif" font-size="2.8" font-weight="normal" font-style="normal" fill="#444" text-anchor="end">0.8</text>
<line x1="264.2" y1="228.18" x2="265.2" y2="228.18" stroke="#333" stroke-width="0.3"/>
<text x="262.6" y="239.54" font-family="'Liberation Sans', Arial, sans-serif" font-size="2.8" font-weight="normal" font-style="normal" fill="#444" text-anchor="end">0.4</text>
<line x1="264.2" y1="238.54" x2="265.2" y2="238.54" stroke="#333" stroke-width="0.3"/>
<text x="262.6" y="249.9" font-family="'Liberation Sans', Arial, sans-serif" font-size="2.8" font-weight="normal" font-style="normal" fill="#444" text-anchor="end">0.0</text>
<line x1="264.2" y1="248.9" x2="265.2" y2="248.9" stroke="#333" stroke-width="0.3"/>
<text x="265" y="255.3" font-family="'Liberation Sans', Arial, sans-serif" font-size="2.8" font-weight="normal" font-style="normal" fill="#444" text-anchor="middle">0</text>
<text x="276.68" y="255.3" font-family="'Liberation Sans', Arial, sans-serif" font-size="2.8" font-weight="normal" font-style="normal" fill="#444" text-anchor="middle">50</text>
<text x="288.35" y="255.3" font-family="'Liberation Sans', Arial, sans-serif" font-size="2.8" font-weight="normal" font-style="normal" fill="#444" text-anchor="middle">100</text>
<text x="300.02" y="255.3" font-family="'Liberation Sans', Arial, sans-serif" font-size="2.8" font-weight="normal" font-style="normal" fill="#444" text-anchor="middle">150</text>
<text x="311.7" y="255.3" font-family="'Liberation Sans', Arial, sans-serif" font-size="2.8" font-weight="normal" font-style="normal" fill="#444" text-anchor="middle">200</text>
<text x="323.38" y="255.3" font-family="'Liberation Sans', Arial, sans-serif" font-size="2.8" font-weight="normal" font-style="normal" fill="#444" text-anchor="middle">250</text>
<text x="335.05" y="255.3" font-family="'Liberation Sans', Arial, sans-serif" font-size="2.8" font-weight="normal" font-style="normal" fill="#444" text-anchor="middle">300</text>
<text x="300.1" y="260.2" font-family="'Liberation Sans', Arial, sans-serif" font-size="4" font-weight="normal" font-style="normal" fill="#222" text-anchor="middle">T (K)</text>
<text x="255.2" y="228.8" font-family="'Liberation Sans', Arial, sans-serif" font-size="3.4" font-weight="normal" font-style="normal" fill="#333" text-anchor="middle" transform="rotate(-90 255.2 228.8)">M (μ<tspan font-size="2.2" dy="0.6">B</tspan><tspan dy="-0.6">/Mn)</tspan></text>
<line x1="288" y1="208.1" x2="295" y2="208.1" stroke="#1a1a1a" stroke-width="0.8"/>
<text x="296" y="209.1" font-family="'Liberation Sans', Arial, sans-serif" font-size="2.8" font-weight="normal" font-style="normal" fill="#333" text-anchor="start">AG [001]</text>
<line x1="312" y1="208.1" x2="319" y2="208.1" stroke="#e02a2a" stroke-width="0.8"/>
<text x="320.5" y="209.1" font-family="'Liberation Sans', Arial, sans-serif" font-size="2.8" font-weight="normal" font-style="normal" fill="#333" text-anchor="start">FS [001]</text>
<line x1="288" y1="212.3" x2="295" y2="212.3" stroke="#6a6a6a" stroke-width="0.8"/>
<text x="296" y="213.3" font-family="'Liberation Sans', Arial, sans-serif" font-size="2.8" font-weight="normal" font-style="normal" fill="#333" text-anchor="start">AG [110]</text>
<line x1="312" y1="212.3" x2="319" y2="212.3" stroke="#ee7070" stroke-width="0.8"/>
<text x="320.5" y="213.3" font-family="'Liberation Sans', Arial, sans-serif" font-size="2.8" font-weight="normal" font-style="normal" fill="#333" text-anchor="start">FS [110]</text>
<line x1="288" y1="216.5" x2="295" y2="216.5" stroke="#1a1a1a" stroke-width="0.8" stroke-dasharray="0.8,0.8"/>
<text x="296" y="217.5" font-family="'Liberation Sans', Arial, sans-serif" font-size="2.8" font-weight="normal" font-style="normal" fill="#333" text-anchor="start">AG [210]</text>
<line x1="312" y1="216.5" x2="319" y2="216.5" stroke="#ee7070" stroke-width="0.8" stroke-dasharray="1.2,0.7"/>
<text x="320.5" y="217.5" font-family="'Liberation Sans', Arial, sans-serif" font-size="2.8" font-weight="normal" font-style="normal" fill="#333" text-anchor="start">FS [210]</text>
<rect x="353.5" y="204.8" width="71.3" height="46.9" fill="#fff" stroke="#222" stroke-width="0.9"/>
<polyline points="355.23,209.81 356.63,209.91 358.04,210.07 359.44,210.28 360.84,210.56 362.24,210.88 363.64,211.26 365.04,211.7 366.44,212.2 367.84,212.75 369.24,213.37 370.65,214.05 372.05,214.81 373.45,215.64 374.85,216.56 376.25,217.58 377.65,218.71 379.05,219.96 380.45,221.36 381.85,222.96 382.2,223.39 382.55,223.84 382.9,224.3 383.25,224.79 383.6,225.29 383.95,225.81 384.3,226.36 384.66,226.94 385.01,227.54 385.36,228.18 385.71,228.86 386.06,229.57 386.41,230.34 386.76,231.17 387.11,232.06 387.46,233.04 387.81,234.13 388.16,235.37 388.51,236.82 388.86,238.61 389.21,241.09 389.56,248.9 389.56,248.9" fill="none" stroke="#1a1a1a" stroke-width="0.9" stroke-linejoin="round"/>
<polyline points="355.23,217.31 356.63,217.34 358.04,217.4 359.44,217.51 360.84,217.65 362.24,217.84 363.64,218.08 365.04,218.36 366.44,218.7 367.84,219.1 369.24,219.55 370.65,220.07 372.05,220.66 373.45,221.32 374.85,222.07 376.25,222.91 377.65,223.86 379.05,224.94 380.45,226.15 381.85,227.54 382.2,227.92 382.55,228.32 382.9,228.73 383.25,229.16 383.6,229.6 383.95,230.07 384.3,230.55 384.66,231.06 385.01,231.6 385.36,232.16 385.71,232.76 386.06,233.39 386.41,234.07 386.76,234.8 387.11,235.58 387.46,236.44 387.81,237.39 388.16,238.46 388.51,239.7 388.86,241.22 389.21,243.26 389.56,248.9 389.56,248.9" fill="none" stroke="#e02a2a" stroke-width="0.8" stroke-linejoin="round"/>
<polyline points="355.23,245.53 356.63,245.54 358.04,245.55 359.44,245.57 360.84,245.59 362.24,245.62 363.64,245.65 365.04,245.69 366.44,245.74 367.84,245.79 369.24,245.85 370.65,245.92 372.05,245.99 373.45,246.07 374.85,246.16 376.25,246.26 377.65,246.38 379.05,246.5 380.45,246.64 381.85,246.8 382.2,246.84 382.55,246.89 382.9,246.93 383.25,246.98 383.6,247.03 383.95,247.08 384.3,247.13 384.66,247.19 385.01,247.25 385.36,247.31 385.71,247.37 386.06,247.44 386.41,247.51 386.76,247.58 387.11,247.67 387.46,247.75 387.81,247.85 388.16,247.96 388.51,248.08 388.86,248.23 389.21,248.43 389.56,248.9 389.56,248.9" fill="none" stroke="#ee7070" stroke-width="0.7" stroke-linejoin="round" stroke-dasharray="1.2,0.7"/>
<polyline points="355.23,246.83 356.63,246.83 358.04,246.84 359.44,246.85 360.84,246.86 362.24,246.88 363.64,246.9 365.04,246.93 366.44,246.95 367.84,246.99 369.24,247.02 370.65,247.06 372.05,247.11 373.45,247.16 374.85,247.22 376.25,247.28 377.65,247.35 379.05,247.42 380.45,247.51 381.85,247.61 382.2,247.63 382.55,247.66 382.9,247.69 383.25,247.72 383.6,247.75 383.95,247.78 384.3,247.81 384.66,247.85 385.01,247.88 385.36,247.92 385.71,247.96 386.06,248 386.41,248.04 386.76,248.09 387.11,248.14 387.46,248.2 387.81,248.26 388.16,248.32 388.51,248.4 388.86,248.49 389.21,248.61 389.56,248.9 389.56,248.9" fill="none" stroke="#1a1a1a" stroke-width="0.9" stroke-linejoin="round" stroke-dasharray="0.8,0.8"/>
<polyline points="355.23,246.31 356.63,246.32 358.04,246.32 359.44,246.34 360.84,246.35 362.24,246.38 363.64,246.4 365.04,246.43 366.44,246.47 367.84,246.51 369.24,246.55 370.65,246.61 372.05,246.66 373.45,246.73 374.85,246.8 376.25,246.87 377.65,246.96 379.05,247.06 380.45,247.16 381.85,247.28 382.2,247.32 382.55,247.35 382.9,247.39 383.25,247.42 383.6,247.46 383.95,247.5 384.3,247.54 384.66,247.58 385.01,247.63 385.36,247.67 385.71,247.72 386.06,247.77 386.41,247.83 386.76,247.89 387.11,247.95 387.46,248.02 387.81,248.09 388.16,248.18 388.51,248.27 388.86,248.39 389.21,248.54 389.56,248.9 389.56,248.9" fill="none" stroke="#6a6a6a" stroke-width="0.5" stroke-linejoin="round"/>
<line x1="389.56" y1="248.3" x2="424.8" y2="248.3" stroke="#e02a2a" stroke-width="0.8"/>
<line x1="389.56" y1="249.2" x2="424.8" y2="249.2" stroke="#333" stroke-width="0.5"/>
<text x="404.2" y="233.2" font-family="'Liberation Sans', Arial, sans-serif" font-size="5.4" font-weight="normal" font-style="normal" fill="#222" text-anchor="middle">STO    (110)</text>
<text x="351.9" y="208.46" font-family="'Liberation Sans', Arial, sans-serif" font-size="2.8" font-weight="normal" font-style="normal" fill="#444" text-anchor="end">1.6</text>
<line x1="353.5" y1="207.46" x2="354.5" y2="207.46" stroke="#333" stroke-width="0.3"/>
<text x="351.9" y="218.82" font-family="'Liberation Sans', Arial, sans-serif" font-size="2.8" font-weight="normal" font-style="normal" fill="#444" text-anchor="end">1.2</text>
<line x1="353.5" y1="217.82" x2="354.5" y2="217.82" stroke="#333" stroke-width="0.3"/>
<text x="351.9" y="229.18" font-family="'Liberation Sans', Arial, sans-serif" font-size="2.8" font-weight="normal" font-style="normal" fill="#444" text-anchor="end">0.8</text>
<line x1="353.5" y1="228.18" x2="354.5" y2="228.18" stroke="#333" stroke-width="0.3"/>
<text x="351.9" y="239.54" font-family="'Liberation Sans', Arial, sans-serif" font-size="2.8" font-weight="normal" font-style="normal" fill="#444" text-anchor="end">0.4</text>
<line x1="353.5" y1="238.54" x2="354.5" y2="238.54" stroke="#333" stroke-width="0.3"/>
<text x="351.9" y="249.9" font-family="'Liberation Sans', Arial, sans-serif" font-size="2.8" font-weight="normal" font-style="normal" fill="#444" text-anchor="end">0.0</text>
<line x1="353.5" y1="248.9" x2="354.5" y2="248.9" stroke="#333" stroke-width="0.3"/>
<text x="354.3" y="255.3" font-family="'Liberation Sans', Arial, sans-serif" font-size="2.8" font-weight="normal" font-style="normal" fill="#444" text-anchor="middle">0</text>
<text x="365.98" y="255.3" font-family="'Liberation Sans', Arial, sans-serif" font-size="2.8" font-weight="normal" font-style="normal" fill="#444" text-anchor="middle">50</text>
<text x="377.65" y="255.3" font-family="'Liberation Sans', Arial, sans-serif" font-size="2.8" font-weight="normal" font-style="normal" fill="#444" text-anchor="middle">100</text>
<text x="389.32" y="255.3" font-family="'Liberation Sans', Arial, sans-serif" font-size="2.8" font-weight="normal" font-style="normal" fill="#444" text-anchor="middle">150</text>
<text x="401" y="255.3" font-family="'Liberation Sans', Arial, sans-serif" font-size="2.8" font-weight="normal" font-style="normal" fill="#444" text-anchor="middle">200</text>
<text x="412.68" y="255.3" font-family="'Liberation Sans', Arial, sans-serif" font-size="2.8" font-weight="normal" font-style="normal" fill="#444" text-anchor="middle">250</text>
<text x="424.35" y="255.3" font-family="'Liberation Sans', Arial, sans-serif" font-size="2.8" font-weight="normal" font-style="normal" fill="#444" text-anchor="middle">300</text>
<text x="389.15" y="260.2" font-family="'Liberation Sans', Arial, sans-serif" font-size="4" font-weight="normal" font-style="normal" fill="#222" text-anchor="middle">T (K)</text>
<text x="344.5" y="228.8" font-family="'Liberation Sans', Arial, sans-serif" font-size="3.4" font-weight="normal" font-style="normal" fill="#333" text-anchor="middle" transform="rotate(-90 344.5 228.8)">M (μ<tspan font-size="2.2" dy="0.6">B</tspan><tspan dy="-0.6">/Mn)</tspan></text>
<line x1="376.8" y1="208.1" x2="383.8" y2="208.1" stroke="#1a1a1a" stroke-width="0.8"/>
<text x="384.8" y="209.1" font-family="'Liberation Sans', Arial, sans-serif" font-size="2.8" font-weight="normal" font-style="normal" fill="#333" text-anchor="start">AG [110]</text>
<line x1="400.8" y1="208.1" x2="407.8" y2="208.1" stroke="#e02a2a" stroke-width="0.8"/>
<text x="409.3" y="209.1" font-family="'Liberation Sans', Arial, sans-serif" font-size="2.8" font-weight="normal" font-style="normal" fill="#333" text-anchor="start">FS [110]</text>
<line x1="376.8" y1="212.3" x2="383.8" y2="212.3" stroke="#6a6a6a" stroke-width="0.8"/>
<text x="384.8" y="213.3" font-family="'Liberation Sans', Arial, sans-serif" font-size="2.8" font-weight="normal" font-style="normal" fill="#333" text-anchor="start">AG [001]</text>
<line x1="400.8" y1="212.3" x2="407.8" y2="212.3" stroke="#ee7070" stroke-width="0.8"/>
<text x="409.3" y="213.3" font-family="'Liberation Sans', Arial, sans-serif" font-size="2.8" font-weight="normal" font-style="normal" fill="#333" text-anchor="start">FS [001]</text>
<line x1="376.8" y1="216.5" x2="383.8" y2="216.5" stroke="#1a1a1a" stroke-width="0.8" stroke-dasharray="0.8,0.8"/>
<text x="384.8" y="217.5" font-family="'Liberation Sans', Arial, sans-serif" font-size="2.8" font-weight="normal" font-style="normal" fill="#333" text-anchor="start">AG [110]</text>
<line x1="400.8" y1="216.5" x2="407.8" y2="216.5" stroke="#ee7070" stroke-width="0.8" stroke-dasharray="1.2,0.7"/>
<text x="409.3" y="217.5" font-family="'Liberation Sans', Arial, sans-serif" font-size="2.8" font-weight="normal" font-style="normal" fill="#333" text-anchor="start">FS [110]</text>
<rect x="443.5" y="204.8" width="72.1" height="46.9" fill="#fff" stroke="#222" stroke-width="0.9"/>
<polyline points="445.23,212.13 446.63,212.17 448.04,212.24 449.44,212.37 450.84,212.54 452.24,212.76 453.64,213.04 455.04,213.38 456.44,213.78 457.84,214.24 459.24,214.77 460.65,215.38 462.05,216.06 463.45,216.83 464.85,217.69 466.25,218.65 467.65,219.72 469.05,220.92 470.45,222.27 471.85,223.78 472.2,224.19 472.55,224.61 472.9,225.05 473.25,225.5 473.6,225.96 473.95,226.44 474.3,226.94 474.66,227.46 475.01,228 475.36,228.56 475.71,229.15 476.06,229.76 476.41,230.4 476.76,231.07 477.11,231.78 477.46,232.53 477.81,233.32 478.16,234.17 478.51,235.08 478.86,236.06 479.21,237.15 479.56,238.36 479.91,239.74 480.26,241.4 480.61,243.58 480.96,248.9 480.96,248.9" fill="none" stroke="#e02a2a" stroke-width="0.8" stroke-linejoin="round"/>
<polyline points="445.23,214.72 446.63,214.75 448.04,214.82 449.44,214.94 450.84,215.1 452.24,215.31 453.64,215.57 455.04,215.88 456.44,216.25 457.84,216.68 459.24,217.17 460.65,217.74 462.05,218.37 463.45,219.09 464.85,219.89 466.25,220.78 467.65,221.78 469.05,222.89 470.45,224.14 471.85,225.55 472.2,225.93 472.55,226.32 472.9,226.73 473.25,227.14 473.6,227.58 473.95,228.03 474.3,228.49 474.66,228.97 475.01,229.47 475.36,229.99 475.71,230.54 476.06,231.11 476.41,231.7 476.76,232.33 477.11,232.98 477.46,233.68 477.81,234.42 478.16,235.2 478.51,236.05 478.86,236.97 479.21,237.98 479.56,239.1 479.91,240.39 480.26,241.93 480.61,243.96 480.96,248.9 480.96,248.9" fill="none" stroke="#1a1a1a" stroke-width="0.9" stroke-linejoin="round"/>
<polyline points="445.23,227.84 446.63,228.21 448.04,228.63 449.44,229.09 450.84,229.58 452.24,230.09 453.64,230.64 455.04,231.2 456.44,231.79 457.84,232.4 459.24,233.03 460.65,233.69 462.05,234.37 463.45,235.08 464.85,235.81 466.25,236.57 467.65,237.37 469.05,238.19 470.45,239.06 471.85,239.97 472.2,240.2 472.55,240.44 472.9,240.68 473.25,240.93 473.6,241.18 473.95,241.43 474.3,241.69 474.66,241.95 475.01,242.22 475.36,242.49 475.71,242.77 476.06,243.06 476.41,243.35 476.76,243.65 477.11,243.95 477.46,244.27 477.81,244.6 478.16,244.93 478.51,245.28 478.86,245.65 479.21,246.04 479.56,246.45 479.91,246.9 480.26,247.39 480.61,247.97 480.96,248.9 480.96,248.9" fill="none" stroke="#e02a2a" stroke-width="0.8" stroke-linejoin="round" stroke-dasharray="1.2,0.7"/>
<polyline points="445.23,229.64 446.63,229.98 448.04,230.36 449.44,230.78 450.84,231.23 452.24,231.7 453.64,232.19 455.04,232.71 456.44,233.25 457.84,233.81 459.24,234.39 460.65,234.99 462.05,235.61 463.45,236.26 464.85,236.93 466.25,237.63 467.65,238.35 469.05,239.11 470.45,239.9 471.85,240.73 472.2,240.95 472.55,241.16 472.9,241.38 473.25,241.61 473.6,241.84 473.95,242.07 474.3,242.31 474.66,242.55 475.01,242.79 475.36,243.04 475.71,243.29 476.06,243.55 476.41,243.82 476.76,244.09 477.11,244.38 477.46,244.66 477.81,244.96 478.16,245.27 478.51,245.59 478.86,245.93 479.21,246.28 479.56,246.66 479.91,247.07 480.26,247.52 480.61,248.05 480.96,248.9 480.96,248.9" fill="none" stroke="#1a1a1a" stroke-width="0.9" stroke-linejoin="round" stroke-dasharray="0.8,0.8"/>
<polyline points="445.23,232.21 446.63,232.5 448.04,232.83 449.44,233.2 450.84,233.58 452.24,233.99 453.64,234.42 455.04,234.87 456.44,235.34 457.84,235.82 459.24,236.32 460.65,236.84 462.05,237.38 463.45,237.94 464.85,238.53 466.25,239.13 467.65,239.76 469.05,240.41 470.45,241.1 471.85,241.82 472.2,242.01 472.55,242.2 472.9,242.39 473.25,242.58 473.6,242.78 473.95,242.98 474.3,243.18 474.66,243.39 475.01,243.6 475.36,243.82 475.71,244.04 476.06,244.27 476.41,244.5 476.76,244.74 477.11,244.98 477.46,245.23 477.81,245.49 478.16,245.76 478.51,246.03 478.86,246.33 479.21,246.63 479.56,246.96 479.91,247.31 480.26,247.7 480.61,248.16 480.96,248.9 480.96,248.9" fill="none" stroke="#ee7070" stroke-width="0.6" stroke-linejoin="round"/>
<polyline points="445.23,234.01 446.63,234.27 448.04,234.56 449.44,234.89 450.84,235.23 452.24,235.6 453.64,235.98 455.04,236.38 456.44,236.8 457.84,237.23 459.24,237.68 460.65,238.14 462.05,238.62 463.45,239.12 464.85,239.64 466.25,240.18 467.65,240.74 469.05,241.33 470.45,241.94 471.85,242.58 472.2,242.75 472.55,242.92 472.9,243.09 473.25,243.26 473.6,243.44 473.95,243.62 474.3,243.8 474.66,243.99 475.01,244.18 475.36,244.37 475.71,244.57 476.06,244.77 476.41,244.97 476.76,245.18 477.11,245.4 477.46,245.62 477.81,245.86 478.16,246.09 478.51,246.34 478.86,246.6 479.21,246.88 479.56,247.17 479.91,247.48 480.26,247.83 480.61,248.24 480.96,248.9 480.96,248.9" fill="none" stroke="#6a6a6a" stroke-width="0.6" stroke-linejoin="round"/>
<line x1="480.96" y1="248.3" x2="515.6" y2="248.3" stroke="#e02a2a" stroke-width="0.8"/>
<line x1="480.96" y1="249.2" x2="515.6" y2="249.2" stroke="#333" stroke-width="0.5"/>
<text x="495.7" y="233.2" font-family="'Liberation Sans', Arial, sans-serif" font-size="5.4" font-weight="normal" font-style="normal" fill="#222" text-anchor="middle">STO    (111)</text>
<text x="441.9" y="208.46" font-family="'Liberation Sans', Arial, sans-serif" font-size="2.8" font-weight="normal" font-style="normal" fill="#444" text-anchor="end">1.6</text>
<line x1="443.5" y1="207.46" x2="444.5" y2="207.46" stroke="#333" stroke-width="0.3"/>
<text x="441.9" y="218.82" font-family="'Liberation Sans', Arial, sans-serif" font-size="2.8" font-weight="normal" font-style="normal" fill="#444" text-anchor="end">1.2</text>
<line x1="443.5" y1="217.82" x2="444.5" y2="217.82" stroke="#333" stroke-width="0.3"/>
<text x="441.9" y="229.18" font-family="'Liberation Sans', Arial, sans-serif" font-size="2.8" font-weight="normal" font-style="normal" fill="#444" text-anchor="end">0.8</text>
<line x1="443.5" y1="228.18" x2="444.5" y2="228.18" stroke="#333" stroke-width="0.3"/>
<text x="441.9" y="239.54" font-family="'Liberation Sans', Arial, sans-serif" font-size="2.8" font-weight="normal" font-style="normal" fill="#444" text-anchor="end">0.4</text>
<line x1="443.5" y1="238.54" x2="444.5" y2="238.54" stroke="#333" stroke-width="0.3"/>
<text x="441.9" y="249.9" font-family="'Liberation Sans', Arial, sans-serif" font-size="2.8" font-weight="normal" font-style="normal" fill="#444" text-anchor="end">0.0</text>
<line x1="443.5" y1="248.9" x2="444.5" y2="248.9" stroke="#333" stroke-width="0.3"/>
<text x="444.3" y="255.3" font-family="'Liberation Sans', Arial, sans-serif" font-size="2.8" font-weight="normal" font-style="normal" fill="#444" text-anchor="middle">0</text>
<text x="455.98" y="255.3" font-family="'Liberation Sans', Arial, sans-serif" font-size="2.8" font-weight="normal" font-style="normal" fill="#444" text-anchor="middle">50</text>
<text x="467.65" y="255.3" font-family="'Liberation Sans', Arial, sans-serif" font-size="2.8" font-weight="normal" font-style="normal" fill="#444" text-anchor="middle">100</text>
<text x="479.32" y="255.3" font-family="'Liberation Sans', Arial, sans-serif" font-size="2.8" font-weight="normal" font-style="normal" fill="#444" text-anchor="middle">150</text>
<text x="491" y="255.3" font-family="'Liberation Sans', Arial, sans-serif" font-size="2.8" font-weight="normal" font-style="normal" fill="#444" text-anchor="middle">200</text>
<text x="502.68" y="255.3" font-family="'Liberation Sans', Arial, sans-serif" font-size="2.8" font-weight="normal" font-style="normal" fill="#444" text-anchor="middle">250</text>
<text x="514.35" y="255.3" font-family="'Liberation Sans', Arial, sans-serif" font-size="2.8" font-weight="normal" font-style="normal" fill="#444" text-anchor="middle">300</text>
<text x="479.55" y="260.2" font-family="'Liberation Sans', Arial, sans-serif" font-size="4" font-weight="normal" font-style="normal" fill="#222" text-anchor="middle">T (K)</text>
<text x="434.5" y="228.8" font-family="'Liberation Sans', Arial, sans-serif" font-size="3.4" font-weight="normal" font-style="normal" fill="#333" text-anchor="middle" transform="rotate(-90 434.5 228.8)">M (μ<tspan font-size="2.2" dy="0.6">B</tspan><tspan dy="-0.6">/Mn)</tspan></text>
<line x1="467.6" y1="208.1" x2="474.6" y2="208.1" stroke="#1a1a1a" stroke-width="0.8"/>
<text x="475.6" y="209.1" font-family="'Liberation Sans', Arial, sans-serif" font-size="2.8" font-weight="normal" font-style="normal" fill="#333" text-anchor="start">AG [111]</text>
<line x1="491.6" y1="208.1" x2="498.6" y2="208.1" stroke="#e02a2a" stroke-width="0.8"/>
<text x="500.1" y="209.1" font-family="'Liberation Sans', Arial, sans-serif" font-size="2.8" font-weight="normal" font-style="normal" fill="#333" text-anchor="start">FS [111]</text>
<line x1="467.6" y1="212.3" x2="474.6" y2="212.3" stroke="#6a6a6a" stroke-width="0.8"/>
<text x="475.6" y="213.3" font-family="'Liberation Sans', Arial, sans-serif" font-size="2.8" font-weight="normal" font-style="normal" fill="#333" text-anchor="start">AG [1-10]</text>
<line x1="491.6" y1="212.3" x2="498.6" y2="212.3" stroke="#ee7070" stroke-width="0.8"/>
<text x="500.1" y="213.3" font-family="'Liberation Sans', Arial, sans-serif" font-size="2.8" font-weight="normal" font-style="normal" fill="#333" text-anchor="start">FS [1-10]</text>
<line x1="467.6" y1="216.5" x2="474.6" y2="216.5" stroke="#1a1a1a" stroke-width="0.8" stroke-dasharray="0.8,0.8"/>
<text x="475.6" y="217.5" font-family="'Liberation Sans', Arial, sans-serif" font-size="2.8" font-weight="normal" font-style="normal" fill="#333" text-anchor="start">AG [11-2]</text>
<line x1="491.6" y1="216.5" x2="498.6" y2="216.5" stroke="#ee7070" stroke-width="0.8" stroke-dasharray="1.2,0.7"/>
<text x="500.1" y="217.5" font-family="'Liberation Sans', Arial, sans-serif" font-size="2.8" font-weight="normal" font-style="normal" fill="#333" text-anchor="start">FS [11-2]</text>
<text x="1.6" y="207" font-family="'Liberation Sans', Arial, sans-serif" font-size="9" font-weight="bold" font-style="normal" fill="#000" text-anchor="start">j</text>
<text x="248.2" y="208.6" font-family="'Liberation Sans', Arial, sans-serif" font-size="9" font-weight="bold" font-style="normal" fill="#000" text-anchor="start">l</text>
<rect x="10.8" y="303.8" width="76.1" height="52.9" fill="#fff" stroke="#555" stroke-width="0.6"/>
<line x1="10.8" y1="350.9" x2="86.9" y2="350.9" stroke="#222" stroke-width="0.6"/>
<line x1="15.3" y1="356.7" x2="15.3" y2="355.6" stroke="#444" stroke-width="0.4"/>
<text x="15.3" y="361.4" font-family="'Liberation Serif', 'Times New Roman', serif" font-size="3" font-weight="normal" font-style="normal" fill="#444" text-anchor="middle">0</text>
<line x1="32.35" y1="356.7" x2="32.35" y2="355.6" stroke="#444" stroke-width="0.4"/>
<text x="32.35" y="361.4" font-family="'Liberation Serif', 'Times New Roman', serif" font-size="3" font-weight="normal" font-style="normal" fill="#444" text-anchor="middle">100</text>
<line x1="49.4" y1="356.7" x2="49.4" y2="355.6" stroke="#444" stroke-width="0.4"/>
<text x="49.4" y="361.4" font-family="'Liberation Serif', 'Times New Roman', serif" font-size="3" font-weight="normal" font-style="normal" fill="#444" text-anchor="middle">200</text>
<line x1="66.45" y1="356.7" x2="66.45" y2="355.6" stroke="#444" stroke-width="0.4"/>
<text x="66.45" y="361.4" font-family="'Liberation Serif', 'Times New Roman', serif" font-size="3" font-weight="normal" font-style="normal" fill="#444" text-anchor="middle">300</text>
<line x1="83.5" y1="356.7" x2="83.5" y2="355.6" stroke="#444" stroke-width="0.4"/>
<text x="83.5" y="361.4" font-family="'Liberation Serif', 'Times New Roman', serif" font-size="3" font-weight="normal" font-style="normal" fill="#444" text-anchor="middle">400</text>
<line x1="10.8" y1="350.9" x2="11.8" y2="350.9" stroke="#444" stroke-width="0.4"/>
<line x1="86.9" y1="350.9" x2="85.9" y2="350.9" stroke="#444" stroke-width="0.4"/>
<text x="8.3" y="351.9" font-family="'Liberation Serif', 'Times New Roman', serif" font-size="3" font-weight="normal" font-style="normal" fill="#444" text-anchor="end">0</text>
<line x1="10.8" y1="338.3" x2="11.8" y2="338.3" stroke="#444" stroke-width="0.4"/>
<line x1="86.9" y1="338.3" x2="85.9" y2="338.3" stroke="#444" stroke-width="0.4"/>
<text x="8.3" y="339.3" font-family="'Liberation Serif', 'Times New Roman', serif" font-size="3" font-weight="normal" font-style="normal" fill="#444" text-anchor="end">1</text>
<line x1="10.8" y1="325.7" x2="11.8" y2="325.7" stroke="#444" stroke-width="0.4"/>
<line x1="86.9" y1="325.7" x2="85.9" y2="325.7" stroke="#444" stroke-width="0.4"/>
<text x="8.3" y="326.7" font-family="'Liberation Serif', 'Times New Roman', serif" font-size="3" font-weight="normal" font-style="normal" fill="#444" text-anchor="end">2</text>
<line x1="10.8" y1="313.1" x2="11.8" y2="313.1" stroke="#444" stroke-width="0.4"/>
<line x1="86.9" y1="313.1" x2="85.9" y2="313.1" stroke="#444" stroke-width="0.4"/>
<text x="8.3" y="314.1" font-family="'Liberation Serif', 'Times New Roman', serif" font-size="3" font-weight="normal" font-style="normal" fill="#444" text-anchor="end">3</text>
<text x="47.85" y="366.4" font-family="'Liberation Serif', 'Times New Roman', serif" font-size="4.5" font-weight="normal" font-style="italic" fill="#222" text-anchor="middle">Temperature (K)</text>
<polyline points="18.37,318.31 20.41,318.53 22.46,318.82 24.51,319.16 26.55,319.55 28.6,319.99 30.65,320.49 32.69,321.03 34.74,321.63 36.78,322.28 38.83,322.99 40.88,323.75 42.92,324.57 44.97,325.46 47.01,326.42 47.52,326.67 48.04,326.93 48.55,327.19 49.06,327.46 49.57,327.73 50.08,328.01 50.59,328.3 51.11,328.59 51.62,328.89 52.13,329.19 52.64,329.51 53.15,329.82 53.66,330.15 54.17,330.49 54.69,330.83 55.2,331.18 55.71,331.54 56.22,331.91 56.73,332.29 57.24,332.68 57.75,333.08 58.27,333.5 58.78,333.93 59.29,334.37 59.8,334.83 60.31,335.3 60.82,335.8 61.34,336.31 61.85,336.85 62.36,337.41 62.87,338 63.38,338.62 63.89,339.28 64.4,339.98 64.92,340.74 65.43,341.56 65.94,342.47 66.45,343.49 66.96,344.69 67.47,346.2 67.98,348.55 68.16,350.9 72.16,350.9" fill="none" stroke="#3a46e0" stroke-width="1.1" stroke-linejoin="round"/>
<polyline points="18.37,318.01 20.41,318.19 22.46,318.42 24.51,318.71 26.55,319.05 28.6,319.44 30.65,319.88 32.69,320.37 34.74,320.91 36.78,321.51 38.83,322.16 40.88,322.86 42.92,323.63 44.97,324.46 47.01,325.37 49.06,326.35 49.57,326.61 50.08,326.87 50.59,327.14 51.11,327.42 51.62,327.7 52.13,327.98 52.64,328.28 53.15,328.58 53.66,328.89 54.17,329.2 54.69,329.53 55.2,329.86 55.71,330.2 56.22,330.54 56.73,330.9 57.24,331.27 57.75,331.65 58.27,332.03 58.78,332.43 59.29,332.84 59.8,333.27 60.31,333.71 60.82,334.16 61.34,334.63 61.85,335.12 62.36,335.63 62.87,336.16 63.38,336.71 63.89,337.29 64.4,337.9 64.92,338.55 65.43,339.23 65.94,339.97 66.45,340.76 66.96,341.63 67.47,342.59 67.98,343.69 68.5,345.01 69.01,346.73 69.52,350.9 73.52,350.9" fill="none" stroke="#e8383a" stroke-width="1.1" stroke-linejoin="round"/>
<rect x="17.6" y="326.9" width="29.9" height="23.1" fill="#fff" stroke="#aaa" stroke-width="0.4"/>
<text x="17" y="327.6" font-family="'Liberation Serif', 'Times New Roman', serif" font-size="1.9" font-weight="normal" font-style="normal" fill="#777" text-anchor="end">1.0</text>
<text x="17" y="339.15" font-family="'Liberation Serif', 'Times New Roman', serif" font-size="1.9" font-weight="normal" font-style="normal" fill="#777" text-anchor="end">0.5</text>
<text x="17" y="349.7" font-family="'Liberation Serif', 'Times New Roman', serif" font-size="1.9" font-weight="normal" font-style="normal" fill="#777" text-anchor="end">0.0</text>
<polygon points="18,344 29.6,347 29.6,349.7 18,349.7" fill="#e6eef8" stroke="none" stroke-width="1"/>
<polyline points="18.2,328.8 21.6,332.4 25.6,337.4 29.5,348.8 46.5,349" fill="none" stroke="#a84050" stroke-width="0.6" stroke-linejoin="round"/>
<polyline points="18.2,335.9 20.6,338.5 23.1,341.4 26.1,348.5 46.5,349.2" fill="none" stroke="#4048c8" stroke-width="0.6" stroke-linejoin="round"/>
<text x="23.6" y="350.3" font-family="'Liberation Serif', 'Times New Roman', serif" font-size="1.8" font-weight="normal" font-style="normal" fill="#777" text-anchor="middle">100</text>
<text x="30.9" y="350.3" font-family="'Liberation Serif', 'Times New Roman', serif" font-size="1.8" font-weight="normal" font-style="normal" fill="#777" text-anchor="middle">150</text>
<text x="38.2" y="350.3" font-family="'Liberation Serif', 'Times New Roman', serif" font-size="1.8" font-weight="normal" font-style="normal" fill="#777" text-anchor="middle">200</text>
<text x="45.5" y="350.3" font-family="'Liberation Serif', 'Times New Roman', serif" font-size="1.8" font-weight="normal" font-style="normal" fill="#777" text-anchor="middle">250</text>
<text x="63" y="309.3" font-family="'Liberation Serif', 'Times New Roman', serif" font-size="3.6" font-weight="bold" font-style="normal" fill="#111" text-anchor="middle">(001)-LSMO</text>
<rect x="89.5" y="303.8" width="73.1" height="52.9" fill="#fff" stroke="#555" stroke-width="0.6"/>
<line x1="89.5" y1="350.9" x2="162.6" y2="350.9" stroke="#222" stroke-width="0.6"/>
<line x1="93.3" y1="356.7" x2="93.3" y2="355.6" stroke="#444" stroke-width="0.4"/>
<text x="93.3" y="361.4" font-family="'Liberation Serif', 'Times New Roman', serif" font-size="3" font-weight="normal" font-style="normal" fill="#444" text-anchor="middle">0</text>
<line x1="110.35" y1="356.7" x2="110.35" y2="355.6" stroke="#444" stroke-width="0.4"/>
<text x="110.35" y="361.4" font-family="'Liberation Serif', 'Times New Roman', serif" font-size="3" font-weight="normal" font-style="normal" fill="#444" text-anchor="middle">100</text>
<line x1="127.4" y1="356.7" x2="127.4" y2="355.6" stroke="#444" stroke-width="0.4"/>
<text x="127.4" y="361.4" font-family="'Liberation Serif', 'Times New Roman', serif" font-size="3" font-weight="normal" font-style="normal" fill="#444" text-anchor="middle">200</text>
<line x1="144.45" y1="356.7" x2="144.45" y2="355.6" stroke="#444" stroke-width="0.4"/>
<text x="144.45" y="361.4" font-family="'Liberation Serif', 'Times New Roman', serif" font-size="3" font-weight="normal" font-style="normal" fill="#444" text-anchor="middle">300</text>
<line x1="161.5" y1="356.7" x2="161.5" y2="355.6" stroke="#444" stroke-width="0.4"/>
<text x="161.5" y="361.4" font-family="'Liberation Serif', 'Times New Roman', serif" font-size="3" font-weight="normal" font-style="normal" fill="#444" text-anchor="middle">400</text>
<line x1="89.5" y1="350.9" x2="90.5" y2="350.9" stroke="#444" stroke-width="0.4"/>
<line x1="162.6" y1="350.9" x2="161.6" y2="350.9" stroke="#444" stroke-width="0.4"/>
<line x1="89.5" y1="338.3" x2="90.5" y2="338.3" stroke="#444" stroke-width="0.4"/>
<line x1="162.6" y1="338.3" x2="161.6" y2="338.3" stroke="#444" stroke-width="0.4"/>
<line x1="89.5" y1="325.7" x2="90.5" y2="325.7" stroke="#444" stroke-width="0.4"/>
<line x1="162.6" y1="325.7" x2="161.6" y2="325.7" stroke="#444" stroke-width="0.4"/>
<line x1="89.5" y1="313.1" x2="90.5" y2="313.1" stroke="#444" stroke-width="0.4"/>
<line x1="162.6" y1="313.1" x2="161.6" y2="313.1" stroke="#444" stroke-width="0.4"/>
<text x="125.05" y="366.4" font-family="'Liberation Serif', 'Times New Roman', serif" font-size="4.5" font-weight="normal" font-style="italic" fill="#222" text-anchor="middle">Temperature (K)</text>
<polyline points="96.37,307.22 98.41,307.3 100.46,307.43 102.51,307.62 104.55,307.87 106.6,308.18 108.64,308.56 110.69,309 112.74,309.52 114.78,310.11 116.83,310.79 118.88,311.55 120.92,312.39 122.97,313.34 125.01,314.39 127.06,315.56 129.1,316.84 129.62,317.19 130.13,317.54 130.64,317.9 131.15,318.27 131.66,318.65 132.17,319.04 132.69,319.44 133.2,319.85 133.71,320.27 134.22,320.7 134.73,321.15 135.24,321.6 135.75,322.07 136.27,322.55 136.78,323.05 137.29,323.56 137.8,324.09 138.31,324.63 138.82,325.19 139.34,325.77 139.85,326.36 140.36,326.98 140.87,327.62 141.38,328.28 141.89,328.97 142.4,329.68 142.92,330.43 143.43,331.2 143.94,332.01 144.45,332.87 144.96,333.76 145.47,334.71 145.98,335.72 146.5,336.8 147.01,337.97 147.52,339.24 148.03,340.66 148.54,342.28 149.05,344.22 149.56,346.85 149.91,350.9 153.91,350.9" fill="none" stroke="#3a46e0" stroke-width="1.1" stroke-linejoin="round"/>
<polyline points="96.37,314.42 98.41,314.53 100.46,314.69 102.51,314.9 104.55,315.17 106.6,315.5 108.64,315.88 110.69,316.32 112.74,316.83 114.78,317.39 116.83,318.03 118.88,318.73 120.92,319.5 122.97,320.35 125.01,321.29 127.06,322.31 127.57,322.58 128.08,322.86 128.59,323.15 129.1,323.44 129.62,323.73 130.13,324.04 130.64,324.35 131.15,324.67 131.66,324.99 132.17,325.33 132.69,325.67 133.2,326.02 133.71,326.38 134.22,326.75 134.73,327.12 135.24,327.51 135.75,327.91 136.27,328.32 136.78,328.74 137.29,329.17 137.8,329.61 138.31,330.07 138.82,330.54 139.34,331.02 139.85,331.52 140.36,332.04 140.87,332.57 141.38,333.13 141.89,333.7 142.4,334.3 142.92,334.92 143.43,335.56 143.94,336.24 144.45,336.95 144.96,337.7 145.47,338.5 145.98,339.35 146.5,340.26 147.01,341.25 147.52,342.34 148.03,343.58 148.54,345.03 149.05,346.88 149.56,350.9 153.56,350.9" fill="none" stroke="#e8383a" stroke-width="1.1" stroke-linejoin="round"/>
<rect x="96.6" y="326.9" width="28.9" height="23.5" fill="#fff" stroke="#aaa" stroke-width="0.4"/>
<text x="96" y="327.6" font-family="'Liberation Serif', 'Times New Roman', serif" font-size="1.9" font-weight="normal" font-style="normal" fill="#777" text-anchor="end">1.0</text>
<text x="96" y="339.35" font-family="'Liberation Serif', 'Times New Roman', serif" font-size="1.9" font-weight="normal" font-style="normal" fill="#777" text-anchor="end">0.5</text>
<text x="96" y="350.1" font-family="'Liberation Serif', 'Times New Roman', serif" font-size="1.9" font-weight="normal" font-style="normal" fill="#777" text-anchor="end">0.0</text>
<polyline points="99.9,326.9 102.6,330.9 106.1,337.9 109.1,348.2 111.8,349.3 124.5,349.4" fill="none" stroke="#4048c8" stroke-width="0.6" stroke-linejoin="round"/>
<polyline points="101.1,326.9 104.1,330.9 107.6,337.9 111.1,348.2 114,349.4 124.5,349.6" fill="none" stroke="#a03868" stroke-width="0.6" stroke-linejoin="round"/>
<text x="102.6" y="350.7" font-family="'Liberation Serif', 'Times New Roman', serif" font-size="1.8" font-weight="normal" font-style="normal" fill="#777" text-anchor="middle">100</text>
<text x="109.57" y="350.7" font-family="'Liberation Serif', 'Times New Roman', serif" font-size="1.8" font-weight="normal" font-style="normal" fill="#777" text-anchor="middle">150</text>
<text x="116.53" y="350.7" font-family="'Liberation Serif', 'Times New Roman', serif" font-size="1.8" font-weight="normal" font-style="normal" fill="#777" text-anchor="middle">200</text>
<text x="123.5" y="350.7" font-family="'Liberation Serif', 'Times New Roman', serif" font-size="1.8" font-weight="normal" font-style="normal" fill="#777" text-anchor="middle">250</text>
<text x="142.3" y="309.3" font-family="'Liberation Serif', 'Times New Roman', serif" font-size="3.6" font-weight="bold" font-style="normal" fill="#111" text-anchor="middle">(110)-LSMO</text>
<rect x="167.3" y="303.8" width="72.4" height="52.9" fill="#fff" stroke="#555" stroke-width="0.6"/>
<line x1="167.3" y1="350.9" x2="239.7" y2="350.9" stroke="#222" stroke-width="0.6"/>
<line x1="171.5" y1="356.7" x2="171.5" y2="355.6" stroke="#444" stroke-width="0.4"/>
<text x="171.5" y="361.4" font-family="'Liberation Serif', 'Times New Roman', serif" font-size="3" font-weight="normal" font-style="normal" fill="#444" text-anchor="middle">0</text>
<line x1="188.55" y1="356.7" x2="188.55" y2="355.6" stroke="#444" stroke-width="0.4"/>
<text x="188.55" y="361.4" font-family="'Liberation Serif', 'Times New Roman', serif" font-size="3" font-weight="normal" font-style="normal" fill="#444" text-anchor="middle">100</text>
<line x1="205.6" y1="356.7" x2="205.6" y2="355.6" stroke="#444" stroke-width="0.4"/>
<text x="205.6" y="361.4" font-family="'Liberation Serif', 'Times New Roman', serif" font-size="3" font-weight="normal" font-style="normal" fill="#444" text-anchor="middle">200</text>
<line x1="222.65" y1="356.7" x2="222.65" y2="355.6" stroke="#444" stroke-width="0.4"/>
<text x="222.65" y="361.4" font-family="'Liberation Serif', 'Times New Roman', serif" font-size="3" font-weight="normal" font-style="normal" fill="#444" text-anchor="middle">300</text>
<line x1="239.7" y1="356.7" x2="239.7" y2="355.6" stroke="#444" stroke-width="0.4"/>
<text x="239.7" y="361.4" font-family="'Liberation Serif', 'Times New Roman', serif" font-size="3" font-weight="normal" font-style="normal" fill="#444" text-anchor="middle">400</text>
<line x1="167.3" y1="350.9" x2="168.3" y2="350.9" stroke="#444" stroke-width="0.4"/>
<line x1="239.7" y1="350.9" x2="238.7" y2="350.9" stroke="#444" stroke-width="0.4"/>
<line x1="167.3" y1="338.3" x2="168.3" y2="338.3" stroke="#444" stroke-width="0.4"/>
<line x1="239.7" y1="338.3" x2="238.7" y2="338.3" stroke="#444" stroke-width="0.4"/>
<line x1="167.3" y1="325.7" x2="168.3" y2="325.7" stroke="#444" stroke-width="0.4"/>
<line x1="239.7" y1="325.7" x2="238.7" y2="325.7" stroke="#444" stroke-width="0.4"/>
<line x1="167.3" y1="313.1" x2="168.3" y2="313.1" stroke="#444" stroke-width="0.4"/>
<line x1="239.7" y1="313.1" x2="238.7" y2="313.1" stroke="#444" stroke-width="0.4"/>
<text x="202.5" y="366.4" font-family="'Liberation Serif', 'Times New Roman', serif" font-size="4.5" font-weight="normal" font-style="italic" fill="#222" text-anchor="middle">Temperature (K)</text>
<polyline points="174.57,309.41 176.62,309.54 178.66,309.75 180.71,310.01 182.75,310.33 184.8,310.72 186.84,311.16 188.89,311.67 190.94,312.24 192.98,312.88 195.03,313.58 197.07,314.35 199.12,315.19 201.17,316.11 203.21,317.11 205.26,318.2 207.31,319.39 207.82,319.7 208.33,320.02 208.84,320.34 209.35,320.67 209.86,321.01 210.37,321.36 210.89,321.71 211.4,322.07 211.91,322.44 212.42,322.82 212.93,323.21 213.44,323.6 213.95,324.01 214.47,324.42 214.98,324.84 215.49,325.28 216,325.72 216.51,326.18 217.02,326.65 217.53,327.13 218.05,327.62 218.56,328.13 219.07,328.65 219.58,329.19 220.09,329.74 220.6,330.31 221.12,330.9 221.63,331.51 222.14,332.15 222.65,332.8 223.16,333.48 223.67,334.2 224.18,334.94 224.7,335.72 225.21,336.54 225.72,337.41 226.23,338.34 226.74,339.33 227.25,340.42 227.77,341.61 228.28,342.95 228.79,344.52 229.3,346.54 229.81,350.9 233.81,350.9" fill="none" stroke="#3a46e0" stroke-width="1.1" stroke-linejoin="round"/>
<polyline points="174.57,313.81 176.62,313.93 178.66,314.11 180.71,314.35 182.75,314.64 184.8,314.98 186.84,315.38 188.89,315.83 190.94,316.34 192.98,316.91 195.03,317.54 197.07,318.22 199.12,318.98 201.17,319.8 203.21,320.7 205.26,321.67 207.31,322.73 207.82,323.01 208.33,323.29 208.84,323.58 209.35,323.88 209.86,324.18 210.37,324.49 210.89,324.81 211.4,325.13 211.91,325.46 212.42,325.8 212.93,326.14 213.44,326.5 213.95,326.86 214.47,327.23 214.98,327.61 215.49,328 216,328.39 216.51,328.8 217.02,329.22 217.53,329.65 218.05,330.09 218.56,330.54 219.07,331.01 219.58,331.49 220.09,331.99 220.6,332.5 221.12,333.02 221.63,333.57 222.14,334.13 222.65,334.72 223.16,335.33 223.67,335.97 224.18,336.63 224.7,337.33 225.21,338.07 225.72,338.84 226.23,339.67 226.74,340.56 227.25,341.53 227.77,342.59 228.28,343.79 228.79,345.2 229.3,347 229.81,350.9 233.81,350.9" fill="none" stroke="#e8383a" stroke-width="1.1" stroke-linejoin="round"/>
<rect x="170.3" y="326.2" width="33.5" height="21" fill="#fff" stroke="#aaa" stroke-width="0.4"/>
<text x="169.7" y="326.9" font-family="'Liberation Serif', 'Times New Roman', serif" font-size="1.9" font-weight="normal" font-style="normal" fill="#777" text-anchor="end">1.0</text>
<text x="169.7" y="337.4" font-family="'Liberation Serif', 'Times New Roman', serif" font-size="1.9" font-weight="normal" font-style="normal" fill="#777" text-anchor="end">0.5</text>
<text x="169.7" y="346.9" font-family="'Liberation Serif', 'Times New Roman', serif" font-size="1.9" font-weight="normal" font-style="normal" fill="#777" text-anchor="end">0.0</text>
<polyline points="171.3,326.5 175.3,332.2 180.3,339.7 184.3,345 187.3,346.2 202.8,346.2" fill="none" stroke="#6a4c98" stroke-width="0.9" stroke-linejoin="round"/>
<text x="176.3" y="347.5" font-family="'Liberation Serif', 'Times New Roman', serif" font-size="1.8" font-weight="normal" font-style="normal" fill="#777" text-anchor="middle">100</text>
<text x="184.8" y="347.5" font-family="'Liberation Serif', 'Times New Roman', serif" font-size="1.8" font-weight="normal" font-style="normal" fill="#777" text-anchor="middle">150</text>
<text x="193.3" y="347.5" font-family="'Liberation Serif', 'Times New Roman', serif" font-size="1.8" font-weight="normal" font-style="normal" fill="#777" text-anchor="middle">200</text>
<text x="201.8" y="347.5" font-family="'Liberation Serif', 'Times New Roman', serif" font-size="1.8" font-weight="normal" font-style="normal" fill="#777" text-anchor="middle">250</text>
<text x="219.5" y="309.3" font-family="'Liberation Serif', 'Times New Roman', serif" font-size="3.6" font-weight="bold" font-style="normal" fill="#111" text-anchor="middle">(111)-LSMO</text>
<text x="53.3" y="313.6" font-family="'Liberation Serif', 'Times New Roman', serif" font-size="3.6" font-weight="normal" font-style="normal" fill="#222" text-anchor="start">Measured @ 500 Oe</text>
<line x1="53.3" y1="317.6" x2="58.4" y2="317.6" stroke="#3a46e0" stroke-width="0.7"/>
<text x="59.5" y="318.7" font-family="'Liberation Serif', 'Times New Roman', serif" font-size="3.4" font-weight="normal" font-style="normal" fill="#222" text-anchor="start">Strained</text>
<line x1="53.3" y1="322.6" x2="58.4" y2="322.6" stroke="#e8383a" stroke-width="0.7"/>
<text x="59.5" y="323.7" font-family="'Liberation Serif', 'Times New Roman', serif" font-size="3.4" font-weight="normal" font-style="normal" fill="#222" text-anchor="start">Freestanding</text>
<text x="4.5" y="330" font-family="'Liberation Serif', 'Times New Roman', serif" font-size="4.2" font-weight="normal" font-style="italic" fill="#333" text-anchor="middle" transform="rotate(-90 4.5 330)">M (μ<tspan font-size="2.4" dy="0.6">B</tspan><tspan dy="-0.6">/Mn)</tspan></text>
<rect x="300.7" y="267.3" width="35.9" height="88.6" fill="#fafcee" stroke="none" stroke-width="1"/>
<rect x="336.6" y="267.3" width="36.1" height="88.6" fill="#eef8fb" stroke="none" stroke-width="1"/>
<rect x="264" y="267.3" width="108.7" height="88.6" fill="none" stroke="#333" stroke-width="0.8"/>
<line x1="264" y1="274.89" x2="372.7" y2="274.89" stroke="#222" stroke-width="0.6" stroke-dasharray="1.3,1.3"/>
<line x1="264" y1="347.7" x2="372.7" y2="347.7" stroke="#222" stroke-width="0.6" stroke-dasharray="1.3,1.3"/>
<text x="262" y="349.1" font-family="'Liberation Sans', Arial, sans-serif" font-size="3.8" font-weight="normal" font-style="normal" fill="#222" text-anchor="end">0</text>
<line x1="264" y1="347.7" x2="265.2" y2="347.7" stroke="#333" stroke-width="0.4"/>
<text x="262" y="324.83" font-family="'Liberation Sans', Arial, sans-serif" font-size="3.8" font-weight="normal" font-style="normal" fill="#222" text-anchor="end">30</text>
<line x1="264" y1="323.43" x2="265.2" y2="323.43" stroke="#333" stroke-width="0.4"/>
<text x="262" y="300.56" font-family="'Liberation Sans', Arial, sans-serif" font-size="3.8" font-weight="normal" font-style="normal" fill="#222" text-anchor="end">60</text>
<line x1="264" y1="299.16" x2="265.2" y2="299.16" stroke="#333" stroke-width="0.4"/>
<text x="262" y="276.29" font-family="'Liberation Sans', Arial, sans-serif" font-size="3.8" font-weight="normal" font-style="normal" fill="#222" text-anchor="end">90</text>
<line x1="264" y1="274.89" x2="265.2" y2="274.89" stroke="#333" stroke-width="0.4"/>
<text x="251.5" y="311" font-family="'Liberation Sans', Arial, sans-serif" font-size="5.2" font-weight="normal" font-style="normal" fill="#222" text-anchor="middle" transform="rotate(-90 251.5 311)">θ<tspan font-size="3" dy="1">k</tspan><tspan dy="-1"> (deg.)</tspan></text>
<ellipse cx="282.3" cy="293" rx="7.8" ry="22.5" fill="none" stroke="#e04040" stroke-width="0.6" stroke-dasharray="1,1"/>
<ellipse cx="282.3" cy="326.8" rx="6.5" ry="7.6" fill="none" stroke="#222" stroke-width="0.6" stroke-dasharray="1,1"/>
<polygon points="282.3,271.76 285.43,274.89 282.3,278.01 279.18,274.89" fill="#fff" stroke="#e02020" stroke-width="0.9"/>
<circle cx="282.3" cy="287.59" r="2.6" fill="#e02020" stroke="none" stroke-width="1"/>
<polygon points="282.3,308.62 285.18,313.62 279.43,313.62" fill="#fff" stroke="#e02020" stroke-width="0.8"/>
<polygon points="282.3,320.43 285.18,325.43 279.43,325.43" fill="#fff" stroke="#111" stroke-width="0.8"/>
<circle cx="282.3" cy="330.47" r="2.5" fill="#111" stroke="none" stroke-width="1"/>
<circle cx="317.5" cy="339.61" r="2.4" fill="#e02020" stroke="none" stroke-width="1"/>
<circle cx="317.5" cy="341.63" r="2.4" fill="#e02020" stroke="none" stroke-width="1"/>
<circle cx="317.5" cy="344.06" r="2.2" fill="#111" stroke="none" stroke-width="1"/>
<polygon points="317.5,344.55 320.25,347.3 317.5,350.05 314.75,347.3" fill="#fff" stroke="#e02020" stroke-width="0.8"/>
<polygon points="355,308.33 358.12,311.46 355,314.58 351.88,311.46" fill="#fff" stroke="#222" stroke-width="0.9"/>
<circle cx="355" cy="315.34" r="2.4" fill="#e02020" stroke="none" stroke-width="1"/>
<circle cx="355" cy="317.12" r="2" fill="#111" stroke="none" stroke-width="1"/>
<circle cx="355" cy="317.77" r="2.4" fill="#e02020" stroke="none" stroke-width="1"/>
<circle cx="355" cy="319.38" r="2.3" fill="#fff" stroke="#e02020" stroke-width="0.7"/>
<circle cx="313.5" cy="279.4" r="1.5" fill="#111" stroke="none" stroke-width="1"/>
<text x="319.1" y="281.1" font-family="'Liberation Sans', Arial, sans-serif" font-size="4.9" font-weight="normal" font-style="normal" fill="#222" text-anchor="start">exp_AG</text>
<circle cx="346.2" cy="279.4" r="1.5" fill="#d02030" stroke="none" stroke-width="1"/>
<text x="352.1" y="281.1" font-family="'Liberation Sans', Arial, sans-serif" font-size="4.9" font-weight="normal" font-style="normal" fill="#222" text-anchor="start">exp_FS</text>
<polygon points="313.1,283.48 314.73,285.1 313.1,286.73 311.48,285.1" fill="#fff" stroke="#111" stroke-width="0.7"/>
<polygon points="346,283.72 347.61,286.52 344.39,286.52" fill="#fff" stroke="#111" stroke-width="0.7"/>
<polygon points="313.1,289.88 314.73,291.5 313.1,293.12 311.48,291.5" fill="#fff" stroke="#e02020" stroke-width="0.7"/>
<polygon points="346,290.12 347.61,292.92 344.39,292.92" fill="#fff" stroke="#e02020" stroke-width="0.7"/>
<text x="320.3" y="289.9" font-family="'Liberation Sans', Arial, sans-serif" font-size="5" font-weight="normal" font-style="normal" fill="#444" text-anchor="start">a-a-c+</text>
<text x="353.5" y="289.9" font-family="'Liberation Sans', Arial, sans-serif" font-size="5" font-weight="normal" font-style="normal" fill="#444" text-anchor="start">a-b+c-</text>
<text x="282.3" y="363.6" font-family="'Liberation Sans', Arial, sans-serif" font-size="5.6" font-weight="normal" font-style="normal" fill="#111" text-anchor="middle">STO(001)</text>
<line x1="282.3" y1="355.9" x2="282.3" y2="354.7" stroke="#333" stroke-width="0.4"/>
<text x="317.5" y="363.6" font-family="'Liberation Sans', Arial, sans-serif" font-size="5.6" font-weight="normal" font-style="normal" fill="#111" text-anchor="middle">STO(110)</text>
<line x1="317.5" y1="355.9" x2="317.5" y2="354.7" stroke="#333" stroke-width="0.4"/>
<text x="355" y="363.6" font-family="'Liberation Sans', Arial, sans-serif" font-size="5.6" font-weight="normal" font-style="normal" fill="#111" text-anchor="middle">STO(111)</text>
<line x1="355" y1="355.9" x2="355" y2="354.7" stroke="#333" stroke-width="0.4"/>
<rect x="408.4" y="267.5" width="110.1" height="87.2" fill="#fff" stroke="#222" stroke-width="0.8"/>
<polyline points="407.9,283.8 435.3,301.1 462.1,314.8 489,329.2 515.4,344" fill="none" stroke="#f2d72e" stroke-width="0.8" stroke-linejoin="round"/>
<polyline points="407.9,339.2 435.3,324.1 462.1,314.8 489,310 515.4,303.8" fill="none" stroke="#f2d72e" stroke-width="0.8" stroke-linejoin="round"/>
<polyline points="407.9,310.4 435.3,308 462.1,314.8 489,301.5 515.4,297.1" fill="none" stroke="#f2d72e" stroke-width="0.8" stroke-linejoin="round"/>
<polyline points="407.9,303.8 435.3,306 462.1,314.8 489,317 515.4,319.2" fill="none" stroke="#5fae45" stroke-width="0.8" stroke-linejoin="round"/>
<polyline points="407.9,310 435.3,311.5 462.1,307.1 489,304.9 515.4,302" fill="none" stroke="#5fae45" stroke-width="0.8" stroke-linejoin="round"/>
<polyline points="407.9,316 435.3,316 462.1,314.8 489,315.3 515.4,313.7" fill="none" stroke="#1c6cb4" stroke-width="0.8" stroke-linejoin="round"/>
<polyline points="407.9,317.5 435.3,311.5 462.1,307.1 489,304.9 515.4,302" fill="none" stroke="#1c6cb4" stroke-width="0.8" stroke-linejoin="round"/>
<circle cx="407.9" cy="283.8" r="2.4" fill="#f2d72e" stroke="none" stroke-width="1"/>
<circle cx="435.3" cy="301.1" r="2.4" fill="#f2d72e" stroke="none" stroke-width="1"/>
<circle cx="462.1" cy="314.8" r="2.4" fill="#f2d72e" stroke="none" stroke-width="1"/>
<circle cx="489" cy="329.2" r="2.4" fill="#f2d72e" stroke="none" stroke-width="1"/>
<circle cx="515.4" cy="344" r="2.4" fill="#f2d72e" stroke="none" stroke-width="1"/>
<circle cx="407.9" cy="339.2" r="2.4" fill="#f2d72e" stroke="none" stroke-width="1"/>
<circle cx="435.3" cy="324.1" r="2.4" fill="#f2d72e" stroke="none" stroke-width="1"/>
<circle cx="462.1" cy="314.8" r="2.4" fill="#f2d72e" stroke="none" stroke-width="1"/>
<circle cx="489" cy="310" r="2.4" fill="#f2d72e" stroke="none" stroke-width="1"/>
<circle cx="515.4" cy="303.8" r="2.4" fill="#f2d72e" stroke="none" stroke-width="1"/>
<circle cx="407.9" cy="310.4" r="2.4" fill="#f2d72e" stroke="none" stroke-width="1"/>
<circle cx="435.3" cy="308" r="2.4" fill="#f2d72e" stroke="none" stroke-width="1"/>
<circle cx="462.1" cy="314.8" r="2.4" fill="#f2d72e" stroke="none" stroke-width="1"/>
<circle cx="489" cy="301.5" r="2.4" fill="#f2d72e" stroke="none" stroke-width="1"/>
<circle cx="515.4" cy="297.1" r="2.4" fill="#f2d72e" stroke="none" stroke-width="1"/>
<rect x="405.8" y="301.7" width="4.2" height="4.2" fill="#5fae45" stroke="none" stroke-width="1"/>
<rect x="433.2" y="303.9" width="4.2" height="4.2" fill="#5fae45" stroke="none" stroke-width="1"/>
<rect x="460" y="312.7" width="4.2" height="4.2" fill="#5fae45" stroke="none" stroke-width="1"/>
<rect x="486.9" y="314.9" width="4.2" height="4.2" fill="#5fae45" stroke="none" stroke-width="1"/>
<rect x="513.3" y="317.1" width="4.2" height="4.2" fill="#5fae45" stroke="none" stroke-width="1"/>
<circle cx="407.9" cy="310" r="2.4" fill="#5fae45" stroke="none" stroke-width="1"/>
<circle cx="435.3" cy="311.5" r="2.4" fill="#5fae45" stroke="none" stroke-width="1"/>
<circle cx="462.1" cy="307.1" r="2.4" fill="#5fae45" stroke="none" stroke-width="1"/>
<circle cx="489" cy="304.9" r="2.4" fill="#5fae45" stroke="none" stroke-width="1"/>
<circle cx="515.4" cy="302" r="2.4" fill="#5fae45" stroke="none" stroke-width="1"/>
<rect x="405.8" y="313.9" width="4.2" height="4.2" fill="#1c6cb4" stroke="none" stroke-width="1"/>
<rect x="433.2" y="313.9" width="4.2" height="4.2" fill="#1c6cb4" stroke="none" stroke-width="1"/>
<rect x="460" y="312.7" width="4.2" height="4.2" fill="#1c6cb4" stroke="none" stroke-width="1"/>
<rect x="486.9" y="313.2" width="4.2" height="4.2" fill="#1c6cb4" stroke="none" stroke-width="1"/>
<rect x="513.3" y="311.6" width="4.2" height="4.2" fill="#1c6cb4" stroke="none" stroke-width="1"/>
<circle cx="407.9" cy="317.5" r="2.4" fill="#1c6cb4" stroke="none" stroke-width="1"/>
<circle cx="435.3" cy="311.5" r="2.4" fill="#1c6cb4" stroke="none" stroke-width="1"/>
<circle cx="462.1" cy="307.1" r="2.4" fill="#1c6cb4" stroke="none" stroke-width="1"/>
<circle cx="489" cy="304.9" r="2.4" fill="#1c6cb4" stroke="none" stroke-width="1"/>
<circle cx="515.4" cy="302" r="2.4" fill="#1c6cb4" stroke="none" stroke-width="1"/>
<text x="434" y="342.4" font-family="'Liberation Sans', Arial, sans-serif" font-size="6.2" font-weight="normal" font-style="normal" fill="#111" text-anchor="middle">compressive</text>
<text x="489.6" y="342.4" font-family="'Liberation Sans', Arial, sans-serif" font-size="6.2" font-weight="normal" font-style="normal" fill="#111" text-anchor="middle">tensile</text>
<text x="406" y="275.3" font-family="'Liberation Sans', Arial, sans-serif" font-size="4" font-weight="normal" font-style="normal" fill="#333" text-anchor="end">10</text>
<line x1="408.4" y1="274" x2="409.6" y2="274" stroke="#222" stroke-width="0.4"/>
<text x="406" y="290.3" font-family="'Liberation Sans', Arial, sans-serif" font-size="4" font-weight="normal" font-style="normal" fill="#333" text-anchor="end">8</text>
<line x1="408.4" y1="289" x2="409.6" y2="289" stroke="#222" stroke-width="0.4"/>
<text x="406" y="334.7" font-family="'Liberation Sans', Arial, sans-serif" font-size="4" font-weight="normal" font-style="normal" fill="#333" text-anchor="end">4</text>
<line x1="408.4" y1="333.4" x2="409.6" y2="333.4" stroke="#222" stroke-width="0.4"/>
<text x="406" y="349.7" font-family="'Liberation Sans', Arial, sans-serif" font-size="4" font-weight="normal" font-style="normal" fill="#333" text-anchor="end">2</text>
<line x1="408.4" y1="348.4" x2="409.6" y2="348.4" stroke="#222" stroke-width="0.4"/>
<text x="407.9" y="360.2" font-family="'Liberation Sans', Arial, sans-serif" font-size="4.4" font-weight="normal" font-style="normal" fill="#333" text-anchor="middle">-2</text>
<line x1="407.9" y1="354.7" x2="407.9" y2="353.5" stroke="#222" stroke-width="0.4"/>
<text x="435.3" y="360.2" font-family="'Liberation Sans', Arial, sans-serif" font-size="4.4" font-weight="normal" font-style="normal" fill="#333" text-anchor="middle">-1</text>
<line x1="435.3" y1="354.7" x2="435.3" y2="353.5" stroke="#222" stroke-width="0.4"/>
<text x="462.1" y="360.2" font-family="'Liberation Sans', Arial, sans-serif" font-size="4.4" font-weight="normal" font-style="normal" fill="#333" text-anchor="middle">0</text>
<line x1="462.1" y1="354.7" x2="462.1" y2="353.5" stroke="#222" stroke-width="0.4"/>
<text x="489" y="360.2" font-family="'Liberation Sans', Arial, sans-serif" font-size="4.4" font-weight="normal" font-style="normal" fill="#333" text-anchor="middle">1</text>
<line x1="489" y1="354.7" x2="489" y2="353.5" stroke="#222" stroke-width="0.4"/>
<text x="515.4" y="360.2" font-family="'Liberation Sans', Arial, sans-serif" font-size="4.4" font-weight="normal" font-style="normal" fill="#333" text-anchor="middle">2</text>
<line x1="515.4" y1="354.7" x2="515.4" y2="353.5" stroke="#222" stroke-width="0.4"/>
<text x="462" y="367.2" font-family="'Liberation Serif', 'Times New Roman', serif" font-size="6.2" font-weight="normal" font-style="normal" fill="#222" text-anchor="middle">Strain(%)</text>
<text x="399.5" y="306" font-family="'Liberation Serif', 'Times New Roman', serif" font-size="4.6" font-weight="normal" font-style="normal" fill="#333" text-anchor="middle" transform="rotate(-90 399.5 306)">Rotation angle(deg.)</text>
<line x1="422.8" y1="273" x2="430.6" y2="273" stroke="#f2d72e" stroke-width="0.8"/>
<circle cx="426.7" cy="273" r="2" fill="#f2d72e" stroke="none" stroke-width="1"/>
<text x="432.8" y="275.2" font-family="'Liberation Sans', Arial, sans-serif" font-size="6.2" font-weight="normal" font-style="normal" fill="#222" text-anchor="start">001-α</text>
<line x1="422.8" y1="280.1" x2="430.6" y2="280.1" stroke="#f2d72e" stroke-width="0.8"/>
<circle cx="426.7" cy="280.1" r="2" fill="#f2d72e" stroke="none" stroke-width="1"/>
<text x="432.8" y="282.3" font-family="'Liberation Sans', Arial, sans-serif" font-size="6.2" font-weight="normal" font-style="normal" fill="#222" text-anchor="start">001-β</text>
<line x1="422.8" y1="287.2" x2="430.6" y2="287.2" stroke="#f2d72e" stroke-width="0.8"/>
<circle cx="426.7" cy="287.2" r="2" fill="#f2d72e" stroke="none" stroke-width="1"/>
<text x="432.8" y="289.4" font-family="'Liberation Sans', Arial, sans-serif" font-size="6.2" font-weight="normal" font-style="normal" fill="#222" text-anchor="start">001-γ</text>
<line x1="453" y1="274.8" x2="461.6" y2="274.8" stroke="#5fae45" stroke-width="0.8"/>
<rect x="455.5" y="273" width="3.6" height="3.6" fill="#5fae45" stroke="none" stroke-width="1"/>
<text x="463" y="277" font-family="'Liberation Sans', Arial, sans-serif" font-size="6.2" font-weight="normal" font-style="normal" fill="#222" text-anchor="start">110-α</text>
<line x1="453" y1="282" x2="461.6" y2="282" stroke="#5fae45" stroke-width="0.8"/>
<circle cx="457.3" cy="282" r="2" fill="#5fae45" stroke="none" stroke-width="1"/>
<text x="463" y="284.2" font-family="'Liberation Sans', Arial, sans-serif" font-size="6.2" font-weight="normal" font-style="normal" fill="#222" text-anchor="start">110-γ</text>
<line x1="484" y1="274.8" x2="492.6" y2="274.8" stroke="#1c6cb4" stroke-width="0.8"/>
<rect x="486.5" y="273" width="3.6" height="3.6" fill="#1c6cb4" stroke="none" stroke-width="1"/>
<text x="494" y="277" font-family="'Liberation Sans', Arial, sans-serif" font-size="6.2" font-weight="normal" font-style="normal" fill="#222" text-anchor="start">111-α</text>
<line x1="484" y1="282" x2="492.6" y2="282" stroke="#1c6cb4" stroke-width="0.8"/>
<circle cx="488.3" cy="282" r="2" fill="#1c6cb4" stroke="none" stroke-width="1"/>
<text x="494" y="284.2" font-family="'Liberation Sans', Arial, sans-serif" font-size="6.2" font-weight="normal" font-style="normal" fill="#222" text-anchor="start">111-γ</text>
<text x="0.7" y="307.2" font-family="'Liberation Sans', Arial, sans-serif" font-size="9" font-weight="bold" font-style="normal" fill="#000" text-anchor="start">k</text>
<text x="247" y="271.2" font-family="'Liberation Sans', Arial, sans-serif" font-size="9.5" font-weight="bold" font-style="normal" fill="#000" text-anchor="start">m</text>
<text x="392.3" y="271.6" font-family="'Liberation Sans', Arial, sans-serif" font-size="9" font-weight="bold" font-style="normal" fill="#000" text-anchor="start">n</text></svg>
</body></html>
